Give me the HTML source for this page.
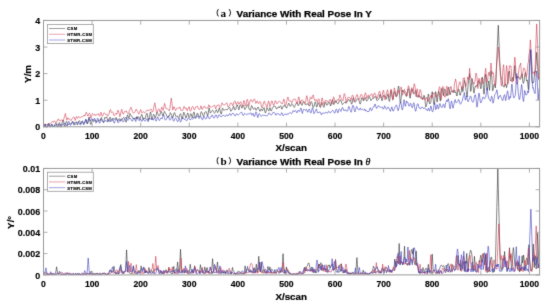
<!DOCTYPE html>
<html><head><meta charset="utf-8"><style>html,body{margin:0;padding:0;background:#fff;overflow:hidden}svg{display:block}</style></head>
<body>
<svg width="550" height="304" viewBox="0 0 550 304">
<defs><filter id="soft" x="0" y="0" width="550" height="304" filterUnits="userSpaceOnUse" color-interpolation-filters="sRGB"><feConvolveMatrix order="3" kernelMatrix="1 8 1 8 64 8 1 8 1" edgeMode="duplicate"/></filter></defs>
<g filter="url(#soft)">
<rect width="550" height="304" fill="#fff"/>
<g>
<polyline points="43.50,126.80 43.99,125.67 44.47,124.73 44.96,123.79 45.44,124.16 45.93,126.24 46.42,126.80 46.90,126.80 47.39,126.80 47.87,126.39 48.36,124.14 48.84,123.22 49.33,124.46 49.82,126.14 50.30,126.65 50.79,126.18 51.27,124.81 51.76,124.03 52.25,124.88 52.73,126.47 53.22,126.41 53.70,126.55 54.19,126.69 54.68,125.17 55.16,123.78 55.65,123.51 56.13,123.10 56.62,124.87 57.11,126.80 57.59,126.80 58.08,126.71 58.56,124.69 59.05,122.93 59.53,122.71 60.02,124.45 60.51,126.80 60.99,126.80 61.48,126.80 61.96,123.99 62.45,121.33 62.94,119.99 63.42,120.41 63.91,123.02 64.39,125.77 64.88,126.60 65.37,124.81 65.85,122.66 66.34,121.44 66.82,121.99 67.31,123.62 67.79,124.89 68.28,124.52 68.77,124.55 69.25,124.01 69.74,123.54 70.22,123.89 70.71,123.86 71.20,123.36 71.68,123.11 72.17,121.87 72.65,121.28 73.14,122.74 73.63,124.52 74.11,123.76 74.60,122.82 75.08,122.65 75.57,122.32 76.06,121.74 76.54,122.01 77.03,123.81 77.51,125.02 78.00,123.68 78.48,121.54 78.97,120.73 79.46,120.82 79.94,121.89 80.43,123.78 80.91,123.99 81.40,123.78 81.89,122.44 82.37,121.41 82.86,121.98 83.34,123.23 83.83,123.57 84.32,123.11 84.80,122.83 85.29,121.33 85.77,119.72 86.26,120.14 86.74,122.40 87.23,123.96 87.72,123.31 88.20,121.16 88.69,117.98 89.17,116.92 89.66,118.66 90.15,122.38 90.63,124.37 91.12,124.21 91.60,122.84 92.09,120.47 92.58,119.33 93.06,120.85 93.55,121.69 94.03,121.04 94.52,120.45 95.00,119.76 95.49,120.00 95.98,121.15 96.46,121.75 96.95,121.53 97.43,121.17 97.92,120.74 98.41,121.03 98.89,120.97 99.38,120.09 99.86,119.99 100.35,120.08 100.84,118.72 101.32,117.47 101.81,118.75 102.29,121.34 102.78,121.94 103.27,122.45 103.75,122.65 104.24,119.84 104.72,117.47 105.21,117.99 105.69,117.89 106.18,117.51 106.67,116.70 107.15,118.50 107.64,120.29 108.12,121.73 108.61,120.26 109.10,119.38 109.58,118.02 110.07,117.09 110.55,118.07 111.04,120.55 111.53,121.27 112.01,120.93 112.50,120.29 112.98,118.51 113.47,117.95 113.95,118.56 114.44,119.11 114.93,119.60 115.41,118.65 115.90,117.50 116.38,117.77 116.87,118.99 117.36,120.34 117.84,121.16 118.33,119.91 118.81,119.14 119.30,118.55 119.79,119.16 120.27,121.20 120.76,120.77 121.24,119.76 121.73,120.03 122.22,119.52 122.70,118.41 123.19,117.75 123.67,117.38 124.16,117.60 124.64,118.07 125.13,119.71 125.62,121.66 126.10,122.26 126.59,119.60 127.07,116.18 127.56,114.85 128.05,116.30 128.53,118.30 129.02,118.04 129.50,116.02 129.99,113.51 130.48,114.78 130.96,115.57 131.45,115.97 131.93,116.14 132.42,117.62 132.90,118.61 133.39,118.38 133.88,118.04 134.36,118.18 134.85,118.92 135.33,119.13 135.82,118.16 136.31,117.06 136.79,118.18 137.28,118.96 137.76,117.42 138.25,116.91 138.74,116.87 139.22,118.04 139.71,119.59 140.19,118.73 140.68,116.82 141.17,115.61 141.65,114.34 142.14,115.11 142.62,117.93 143.11,119.32 143.59,118.04 144.08,117.76 144.57,118.52 145.05,118.77 145.54,117.38 146.02,115.18 146.51,113.84 147.00,113.24 147.48,114.96 147.97,118.25 148.45,120.29 148.94,119.90 149.43,117.70 149.91,114.46 150.40,111.90 150.88,112.92 151.37,116.89 151.85,119.84 152.34,119.11 152.83,116.78 153.31,114.92 153.80,114.29 154.28,115.14 154.77,116.81 155.26,118.04 155.74,116.74 156.23,114.99 156.71,113.11 157.20,112.47 157.69,113.27 158.17,114.40 158.66,115.47 159.14,116.17 159.63,115.63 160.12,114.08 160.60,112.71 161.09,111.37 161.57,111.85 162.06,113.81 162.54,115.15 163.03,115.72 163.52,114.28 164.00,112.65 164.49,111.38 164.97,112.32 165.46,113.23 165.95,113.96 166.43,114.80 166.92,116.33 167.40,117.43 167.89,117.67 168.38,116.97 168.86,115.56 169.35,115.89 169.83,114.78 170.32,112.64 170.80,113.60 171.29,114.38 171.78,115.21 172.26,117.12 172.75,117.87 173.23,116.17 173.72,113.77 174.21,112.74 174.69,112.73 175.18,114.21 175.66,116.01 176.15,116.59 176.64,116.09 177.12,115.84 177.61,116.13 178.09,117.48 178.58,118.34 179.07,117.31 179.55,115.51 180.04,114.12 180.52,113.62 181.01,114.82 181.49,117.48 181.98,118.71 182.47,118.86 182.95,116.52 183.44,113.02 183.92,112.17 184.41,113.98 184.90,114.95 185.38,116.24 185.87,118.11 186.35,117.39 186.84,115.24 187.33,114.05 187.81,112.95 188.30,114.67 188.78,116.58 189.27,117.48 189.75,116.86 190.24,114.81 190.73,113.55 191.21,113.95 191.70,115.88 192.18,117.90 192.67,116.78 193.16,113.98 193.64,112.47 194.13,111.93 194.61,114.57 195.10,117.49 195.59,117.61 196.07,116.52 196.56,115.23 197.04,113.66 197.53,113.02 198.01,114.08 198.50,116.28 198.99,116.88 199.47,116.62 199.96,116.64 200.44,114.80 200.93,112.44 201.42,111.66 201.90,112.46 202.39,113.97 202.87,115.28 203.36,115.82 203.85,115.74 204.33,114.12 204.82,112.21 205.30,111.83 205.79,111.96 206.28,111.59 206.76,112.89 207.25,115.04 207.73,115.98 208.22,113.89 208.70,109.66 209.19,107.97 209.68,109.87 210.16,112.71 210.65,112.99 211.13,111.96 211.62,111.41 212.11,110.55 212.59,110.10 213.08,110.57 213.56,111.77 214.05,112.64 214.54,113.09 215.02,112.65 215.51,111.35 215.99,110.10 216.48,109.66 216.96,111.07 217.45,112.59 217.94,112.37 218.42,111.24 218.91,108.86 219.39,107.90 219.88,109.57 220.37,111.89 220.85,113.69 221.34,114.20 221.82,111.97 222.31,108.35 222.80,108.30 223.28,109.31 223.77,110.10 224.25,110.28 224.74,109.65 225.23,109.45 225.71,109.83 226.20,109.57 226.68,109.62 227.17,109.92 227.65,109.30 228.14,108.60 228.63,107.96 229.11,107.74 229.60,107.21 230.08,108.90 230.57,110.91 231.06,111.36 231.54,110.41 232.03,109.29 232.51,109.21 233.00,107.80 233.49,106.11 233.97,106.89 234.46,109.29 234.94,110.07 235.43,109.70 235.91,108.63 236.40,106.55 236.89,104.59 237.37,104.90 237.86,106.38 238.34,108.29 238.83,109.88 239.32,108.37 239.80,105.26 240.29,104.87 240.77,105.03 241.26,106.35 241.75,108.05 242.23,107.87 242.72,106.29 243.20,105.34 243.69,105.64 244.18,107.44 244.66,109.26 245.15,109.43 245.63,108.35 246.12,107.70 246.60,106.58 247.09,104.91 247.58,104.78 248.06,105.37 248.55,107.27 249.03,108.99 249.52,109.33 250.01,109.93 250.49,110.43 250.98,107.62 251.46,105.71 251.95,105.95 252.44,107.06 252.92,108.64 253.41,109.08 253.89,109.18 254.38,108.34 254.86,107.68 255.35,108.33 255.84,110.00 256.32,110.28 256.81,109.36 257.29,107.95 257.78,107.29 258.27,107.22 258.75,108.50 259.24,109.80 259.72,111.05 260.21,111.26 260.70,110.08 261.18,108.80 261.67,109.40 262.15,110.72 262.64,110.42 263.13,109.14 263.61,108.18 264.10,107.51 264.58,110.18 265.07,112.65 265.55,112.85 266.04,111.66 266.53,109.18 267.01,107.74 267.50,108.23 267.98,109.25 268.47,110.52 268.96,111.07 269.44,109.53 269.93,107.51 270.41,108.69 270.90,110.69 271.39,110.82 271.87,109.72 272.36,108.30 272.84,107.56 273.33,106.49 273.81,105.87 274.30,106.16 274.79,106.11 275.27,106.26 275.76,107.59 276.24,108.73 276.73,108.96 277.22,107.89 277.70,107.77 278.19,107.11 278.67,106.71 279.16,107.94 279.65,107.36 280.13,106.21 280.62,105.71 281.10,106.46 281.59,108.85 282.08,109.28 282.56,108.01 283.05,106.42 283.53,106.19 284.02,105.42 284.50,105.07 284.99,106.64 285.48,106.65 285.96,106.69 286.45,108.12 286.93,107.77 287.42,106.18 287.91,105.31 288.39,103.58 288.88,103.11 289.36,104.59 289.85,105.94 290.34,106.43 290.82,105.90 291.31,104.30 291.79,103.57 292.28,103.87 292.76,104.50 293.25,105.70 293.74,106.62 294.22,107.41 294.71,106.71 295.19,105.28 295.68,104.34 296.17,103.38 296.65,102.45 297.14,102.40 297.62,103.63 298.11,105.63 298.60,105.19 299.08,104.26 299.57,103.27 300.05,101.43 300.54,101.70 301.02,103.45 301.51,104.38 302.00,105.36 302.48,104.39 302.97,102.17 303.45,101.65 303.94,101.54 304.43,102.24 304.91,103.69 305.40,104.72 305.88,104.48 306.37,104.26 306.86,104.04 307.34,103.68 307.83,104.42 308.31,105.12 308.80,105.15 309.29,105.53 309.77,106.12 310.26,104.41 310.74,102.11 311.23,101.64 311.71,101.96 312.20,103.70 312.69,106.28 313.17,107.27 313.66,107.19 314.14,106.02 314.63,103.45 315.12,101.98 315.60,102.30 316.09,104.78 316.57,106.87 317.06,106.86 317.55,104.83 318.03,102.50 318.52,103.02 319.00,104.40 319.49,105.71 319.97,107.18 320.46,107.52 320.95,105.42 321.43,103.51 321.92,102.51 322.40,103.53 322.89,105.27 323.38,106.65 323.86,107.40 324.35,106.26 324.83,103.63 325.32,102.07 325.81,102.60 326.29,103.91 326.78,105.20 327.26,105.14 327.75,104.42 328.24,103.05 328.72,102.38 329.21,101.93 329.69,102.72 330.18,105.08 330.66,106.02 331.15,103.62 331.64,102.00 332.12,100.70 332.61,99.55 333.09,101.93 333.58,104.25 334.07,104.57 334.55,102.53 335.04,101.03 335.52,101.12 336.01,100.91 336.50,102.11 336.98,103.16 337.47,103.59 337.95,103.68 338.44,103.33 338.92,101.97 339.41,101.06 339.90,100.30 340.38,99.67 340.87,100.71 341.35,101.96 341.84,103.14 342.33,104.65 342.81,104.17 343.30,103.61 343.78,103.11 344.27,102.65 344.76,102.07 345.24,101.85 345.73,103.04 346.21,103.33 346.70,102.62 347.19,101.62 347.67,100.29 348.16,99.72 348.64,99.17 349.13,100.10 349.61,101.28 350.10,100.62 350.59,100.36 351.07,102.58 351.56,104.10 352.04,103.71 352.53,100.95 353.02,98.14 353.50,97.63 353.99,99.65 354.47,101.82 354.96,102.30 355.45,102.14 355.93,101.31 356.42,100.29 356.90,99.19 357.39,98.89 357.87,98.49 358.36,98.88 358.85,100.13 359.33,101.72 359.82,103.68 360.30,103.98 360.79,102.46 361.28,99.40 361.76,97.71 362.25,97.91 362.73,98.73 363.22,100.39 363.71,100.95 364.19,99.55 364.68,98.24 365.16,97.58 365.65,97.96 366.14,99.92 366.62,101.09 367.11,100.70 367.59,99.99 368.08,99.53 368.56,97.47 369.05,96.18 369.54,96.87 370.02,98.00 370.51,99.46 370.99,100.66 371.48,99.71 371.97,98.96 372.45,98.40 372.94,98.66 373.42,98.52 373.91,97.83 374.40,96.96 374.88,97.15 375.37,96.46 375.85,97.05 376.34,98.73 376.82,100.40 377.31,100.50 377.80,100.29 378.28,99.77 378.77,99.25 379.25,97.35 379.74,94.67 380.23,94.43 380.71,96.24 381.20,98.21 381.68,99.97 382.17,100.76 382.66,98.91 383.14,95.77 383.63,95.43 384.11,96.46 384.60,95.76 385.09,96.22 385.57,97.54 386.06,98.50 386.54,98.97 387.03,96.56 387.51,94.12 388.00,94.44 388.49,97.26 388.97,100.65 389.46,101.42 389.94,98.91 390.43,93.77 390.92,90.41 391.40,92.11 391.89,94.82 392.37,98.24 392.86,99.37 393.35,98.17 393.83,94.74 394.32,91.78 394.80,91.57 395.29,93.48 395.77,95.80 396.26,96.81 396.75,96.58 397.23,95.80 397.72,92.51 398.20,87.16 398.69,85.98 399.18,89.54 399.66,95.96 400.15,102.14 400.63,103.18 401.12,98.30 401.61,92.22 402.09,89.83 402.58,91.51 403.06,92.04 403.55,90.91 404.03,91.58 404.52,92.34 405.01,93.96 405.49,94.17 405.98,96.08 406.46,96.54 406.95,93.49 407.44,91.51 407.92,89.12 408.41,88.61 408.89,89.87 409.38,93.73 409.87,98.09 410.35,97.98 410.84,93.96 411.32,90.94 411.81,89.22 412.30,89.25 412.78,90.17 413.27,92.51 413.75,94.19 414.24,93.22 414.72,92.81 415.21,91.68 415.70,90.46 416.18,91.56 416.67,95.42 417.15,97.17 417.64,96.65 418.13,95.16 418.61,95.16 419.10,96.60 419.58,96.24 420.07,96.04 420.56,97.74 421.04,98.54 421.53,97.82 422.01,97.41 422.50,98.86 422.98,99.21 423.47,97.18 423.96,95.32 424.44,95.98 424.93,99.30 425.41,104.44 425.90,106.87 426.39,105.77 426.87,104.06 427.36,100.77 427.84,96.72 428.33,94.01 428.82,95.04 429.30,101.34 429.79,104.03 430.27,103.29 430.76,102.65 431.25,98.52 431.73,94.15 432.22,91.68 432.70,94.93 433.19,99.40 433.67,103.08 434.16,104.49 434.65,101.35 435.13,95.29 435.62,91.66 436.10,93.40 436.59,98.60 437.08,102.07 437.56,99.02 438.05,94.50 438.53,91.47 439.02,91.55 439.51,95.26 439.99,99.98 440.48,101.12 440.96,95.07 441.45,90.02 441.93,88.25 442.42,89.56 442.91,91.87 443.39,95.66 443.88,92.70 444.36,89.26 444.85,89.15 445.34,89.59 445.82,90.26 446.31,93.68 446.79,96.00 447.28,95.62 447.77,93.01 448.25,88.65 448.74,87.10 449.22,90.01 449.71,93.68 450.20,94.82 450.68,92.86 451.17,90.86 451.65,91.01 452.14,91.32 452.62,90.94 453.11,92.48 453.60,92.47 454.08,89.98 454.57,90.12 455.05,92.71 455.54,92.01 456.03,91.73 456.51,94.87 457.00,96.00 457.48,93.40 457.97,90.87 458.46,89.15 458.94,89.32 459.43,92.46 459.91,95.14 460.40,95.17 460.88,93.04 461.37,90.83 461.86,86.87 462.34,88.41 462.83,91.66 463.31,88.81 463.80,84.59 464.29,80.27 464.77,82.24 465.26,83.03 465.74,87.49 466.23,91.49 466.72,95.16 467.20,97.02 467.69,90.67 468.17,84.50 468.66,80.13 469.15,77.74 469.63,73.62 470.12,82.99 470.60,91.41 471.09,91.00 471.57,82.63 472.06,78.64 472.55,81.15 473.03,85.11 473.52,90.80 474.00,93.19 474.49,90.22 474.98,87.17 475.46,86.22 475.95,87.10 476.43,85.17 476.92,85.40 477.41,85.77 477.89,83.57 478.38,80.61 478.86,81.19 479.35,82.29 479.83,83.24 480.32,86.16 480.81,88.77 481.29,86.93 481.78,81.27 482.26,77.27 482.75,78.72 483.24,85.34 483.72,93.61 484.21,94.22 484.69,87.33 485.18,77.29 485.67,74.33 486.15,78.43 486.64,86.34 487.12,90.42 487.61,88.14 488.10,82.81 488.58,81.09 489.07,85.33 489.55,90.34 490.04,83.12 490.52,75.46 491.01,70.97 491.50,73.02 491.98,79.18 492.47,90.56 492.95,90.69 493.44,87.43 493.93,84.68 494.41,83.96 494.90,86.49 495.38,87.96 495.87,82.04 496.36,69.54 496.84,57.75 497.33,46.37 497.81,35.68 498.30,25.24 498.78,37.04 499.27,49.89 499.76,61.24 500.24,68.75 500.73,76.26 501.21,77.21 501.70,78.99 502.19,81.10 502.67,84.36 503.16,85.84 503.64,86.74 504.13,87.19 504.62,85.96 505.10,83.96 505.59,83.97 506.07,84.68 506.56,87.73 507.04,85.18 507.53,83.27 508.02,79.81 508.50,72.80 508.99,73.04 509.47,70.97 509.96,77.09 510.45,80.85 510.93,80.41 511.42,80.86 511.90,80.60 512.39,77.92 512.88,77.39 513.36,80.90 513.85,76.96 514.33,71.32 514.82,65.65 515.31,71.80 515.79,76.91 516.28,78.79 516.76,76.48 517.25,76.55 517.73,78.02 518.22,76.99 518.71,76.59 519.19,77.54 519.68,78.41 520.16,79.50 520.65,78.87 521.14,75.45 521.62,74.00 522.11,73.90 522.59,79.26 523.08,83.22 523.57,83.22 524.05,81.16 524.54,76.22 525.02,72.84 525.51,72.37 525.99,75.54 526.48,81.12 526.97,80.31 527.45,80.30 527.94,85.71 528.42,89.59 528.91,81.11 529.40,66.49 529.88,58.35 530.37,49.70 530.85,57.86 531.34,67.49 531.83,80.41 532.31,83.07 532.80,82.24 533.28,82.85 533.77,81.76 534.26,76.84 534.74,71.45 535.23,72.43 535.71,68.20 536.20,61.29 536.68,52.36 537.17,60.25 537.66,66.39 538.14,76.42 538.63,78.80 539.11,80.43" fill="none" stroke="#303030" stroke-width="0.6" stroke-opacity="1.0" stroke-linejoin="round"/>
<polyline points="43.50,126.80 43.99,126.80 44.47,126.80 44.96,126.06 45.44,125.41 45.93,124.74 46.42,124.79 46.90,124.67 47.39,124.20 47.87,124.21 48.36,124.82 48.84,124.91 49.33,124.48 49.82,123.95 50.30,123.68 50.79,122.84 51.27,122.47 51.76,122.01 52.25,121.51 52.73,121.93 53.22,122.36 53.70,121.25 54.19,120.85 54.68,121.06 55.16,121.96 55.65,122.74 56.13,122.87 56.62,122.32 57.11,121.03 57.59,119.94 58.08,119.07 58.56,118.98 59.05,120.08 59.53,120.92 60.02,121.11 60.51,120.85 60.99,120.43 61.48,119.71 61.96,119.94 62.45,120.89 62.94,121.14 63.42,120.01 63.91,118.73 64.39,116.76 64.88,115.22 65.37,113.51 65.85,115.90 66.34,118.46 66.82,120.23 67.31,118.98 67.79,117.79 68.28,118.01 68.77,119.26 69.25,119.18 69.74,119.25 70.22,119.56 70.71,120.47 71.20,120.49 71.68,119.27 72.17,118.73 72.65,117.72 73.14,117.29 73.63,117.10 74.11,117.12 74.60,118.68 75.08,120.44 75.57,119.49 76.06,117.19 76.54,116.46 77.03,117.64 77.51,118.40 78.00,117.77 78.48,116.54 78.97,116.94 79.46,117.35 79.94,117.40 80.43,117.73 80.91,117.45 81.40,116.68 81.89,117.03 82.37,117.02 82.86,116.27 83.34,115.69 83.83,115.31 84.32,115.13 84.80,116.24 85.29,114.91 85.77,113.29 86.26,112.18 86.74,113.04 87.23,114.44 87.72,115.95 88.20,115.88 88.69,114.20 89.17,113.42 89.66,113.22 90.15,114.45 90.63,117.66 91.12,118.39 91.60,116.46 92.09,114.39 92.58,113.44 93.06,113.99 93.55,114.64 94.03,114.20 94.52,114.70 95.00,115.75 95.49,115.29 95.98,114.47 96.46,114.99 96.95,115.23 97.43,114.32 97.92,113.70 98.41,113.75 98.89,114.75 99.38,116.23 99.86,115.69 100.35,113.50 100.84,112.17 101.32,112.76 101.81,115.33 102.29,116.40 102.78,115.65 103.27,114.83 103.75,113.21 104.24,112.74 104.72,113.34 105.21,113.63 105.69,114.56 106.18,114.79 106.67,114.21 107.15,114.49 107.64,115.75 108.12,115.73 108.61,114.94 109.10,113.55 109.58,110.89 110.07,110.26 110.55,109.52 111.04,111.65 111.53,112.70 112.01,112.30 112.50,111.82 112.98,112.33 113.47,114.45 113.95,115.75 114.44,115.45 114.93,114.53 115.41,113.56 115.90,113.10 116.38,114.22 116.87,114.25 117.36,112.37 117.84,110.20 118.33,111.03 118.81,112.32 119.30,114.25 119.79,116.77 120.27,115.98 120.76,112.96 121.24,110.37 121.73,109.22 122.22,111.12 122.70,113.10 123.19,114.28 123.67,113.90 124.16,112.36 124.64,111.44 125.13,111.00 125.62,111.67 126.10,111.22 126.59,110.94 127.07,112.76 127.56,113.44 128.05,113.92 128.53,113.61 129.02,111.89 129.50,110.29 129.99,109.48 130.48,108.26 130.96,107.13 131.45,108.69 131.93,110.09 132.42,111.27 132.90,112.29 133.39,113.08 133.88,112.74 134.36,112.81 134.85,112.33 135.33,111.16 135.82,109.79 136.31,109.16 136.79,110.19 137.28,111.19 137.76,111.73 138.25,112.94 138.74,114.17 139.22,113.69 139.71,112.37 140.19,110.29 140.68,109.50 141.17,110.96 141.65,112.60 142.14,112.72 142.62,112.55 143.11,111.66 143.59,111.73 144.08,112.43 144.57,112.85 145.05,112.62 145.54,112.19 146.02,111.31 146.51,110.83 147.00,110.11 147.48,110.17 147.97,109.95 148.45,110.33 148.94,110.91 149.43,110.44 149.91,109.63 150.40,109.33 150.88,109.39 151.37,109.43 151.85,110.90 152.34,112.12 152.83,111.44 153.31,110.52 153.80,107.12 154.28,104.69 154.77,102.87 155.26,104.80 155.74,107.63 156.23,111.93 156.71,113.00 157.20,112.21 157.69,110.72 158.17,109.86 158.66,108.83 159.14,109.35 159.63,110.86 160.12,112.17 160.60,111.62 161.09,109.52 161.57,107.27 162.06,107.32 162.54,108.61 163.03,110.51 163.52,109.29 164.00,105.98 164.49,103.40 164.97,104.85 165.46,106.53 165.95,108.36 166.43,108.90 166.92,108.73 167.40,108.71 167.89,109.35 168.38,109.58 168.86,110.62 169.35,110.69 169.83,109.40 170.32,104.94 170.80,101.49 171.29,98.09 171.78,101.37 172.26,105.65 172.75,110.06 173.23,108.81 173.72,106.96 174.21,106.75 174.69,108.18 175.18,109.74 175.66,110.62 176.15,109.38 176.64,108.44 177.12,108.25 177.61,108.08 178.09,107.97 178.58,108.12 179.07,108.27 179.55,107.36 180.04,106.97 180.52,109.30 181.01,110.58 181.49,110.25 181.98,110.48 182.47,110.46 182.95,110.16 183.44,108.23 183.92,106.42 184.41,106.77 184.90,108.43 185.38,108.67 185.87,107.90 186.35,108.29 186.84,110.40 187.33,110.73 187.81,109.02 188.30,107.94 188.78,106.95 189.27,106.82 189.75,109.51 190.24,111.17 190.73,110.89 191.21,109.83 191.70,107.79 192.18,106.82 192.67,106.34 193.16,107.07 193.64,108.29 194.13,109.76 194.61,109.83 195.10,108.48 195.59,107.28 196.07,107.42 196.56,106.86 197.04,105.94 197.53,106.62 198.01,107.89 198.50,108.89 198.99,109.08 199.47,109.67 199.96,109.22 200.44,107.32 200.93,105.78 201.42,107.07 201.90,109.16 202.39,109.42 202.87,108.06 203.36,107.06 203.85,107.15 204.33,106.15 204.82,106.50 205.30,107.87 205.79,108.04 206.28,107.72 206.76,108.03 207.25,108.23 207.73,108.41 208.22,107.14 208.70,104.78 209.19,105.52 209.68,107.00 210.16,107.33 210.65,106.75 211.13,106.67 211.62,107.21 212.11,106.95 212.59,106.44 213.08,106.07 213.56,105.95 214.05,105.31 214.54,105.20 215.02,106.52 215.51,108.86 215.99,108.13 216.48,106.41 216.96,105.39 217.45,105.42 217.94,105.48 218.42,104.74 218.91,105.01 219.39,106.57 219.88,107.59 220.37,107.34 220.85,106.76 221.34,104.62 221.82,102.85 222.31,103.22 222.80,104.30 223.28,104.98 223.77,104.75 224.25,104.75 224.74,105.01 225.23,104.43 225.71,103.90 226.20,103.25 226.68,102.67 227.17,103.90 227.65,106.10 228.14,107.10 228.63,106.37 229.11,106.27 229.60,105.53 230.08,103.79 230.57,102.92 231.06,103.46 231.54,103.09 232.03,103.79 232.51,105.48 233.00,105.69 233.49,103.88 233.97,101.77 234.46,101.31 234.94,100.91 235.43,102.03 235.91,104.22 236.40,104.18 236.89,103.17 237.37,102.46 237.86,101.67 238.34,102.88 238.83,104.20 239.32,103.98 239.80,103.00 240.29,102.08 240.77,101.60 241.26,103.24 241.75,104.57 242.23,105.52 242.72,106.23 243.20,103.44 243.69,100.89 244.18,100.44 244.66,102.54 245.15,105.64 245.63,106.12 246.12,104.31 246.60,101.20 247.09,99.36 247.58,99.66 248.06,101.51 248.55,104.81 249.03,105.58 249.52,103.23 250.01,101.41 250.49,100.12 250.98,99.41 251.46,100.29 251.95,101.18 252.44,102.04 252.92,101.86 253.41,100.25 253.89,99.47 254.38,98.88 254.86,99.92 255.35,101.48 255.84,103.56 256.32,102.90 256.81,101.38 257.29,100.94 257.78,102.23 258.27,103.27 258.75,103.70 259.24,102.45 259.72,101.62 260.21,101.65 260.70,102.33 261.18,105.04 261.67,107.52 262.15,107.88 262.64,106.69 263.13,104.52 263.61,102.57 264.10,101.27 264.58,101.30 265.07,103.64 265.55,104.30 266.04,104.59 266.53,106.91 267.01,107.54 267.50,105.42 267.98,102.86 268.47,101.00 268.96,101.34 269.44,104.85 269.93,106.57 270.41,105.46 270.90,103.84 271.39,101.93 271.87,100.78 272.36,101.32 272.84,103.72 273.33,104.94 273.81,105.16 274.30,104.12 274.79,102.14 275.27,100.55 275.76,101.18 276.24,102.75 276.73,103.66 277.22,103.75 277.70,102.37 278.19,101.63 278.67,101.72 279.16,101.62 279.65,101.27 280.13,101.61 280.62,101.89 281.10,102.83 281.59,103.85 282.08,104.06 282.56,103.67 283.05,101.77 283.53,99.25 284.02,99.15 284.50,101.11 284.99,103.97 285.48,105.46 285.96,104.84 286.45,103.38 286.93,100.30 287.42,98.02 287.91,97.02 288.39,98.63 288.88,100.55 289.36,101.27 289.85,100.90 290.34,100.69 290.82,100.77 291.31,102.09 291.79,102.77 292.28,102.04 292.76,100.82 293.25,99.77 293.74,99.03 294.22,99.16 294.71,99.02 295.19,99.07 295.68,99.86 296.17,101.61 296.65,103.32 297.14,104.02 297.62,102.41 298.11,99.15 298.60,96.84 299.08,97.64 299.57,100.31 300.05,103.35 300.54,103.40 301.02,101.16 301.51,100.10 302.00,100.32 302.48,100.02 302.97,100.47 303.45,101.58 303.94,102.36 304.43,102.90 304.91,103.38 305.40,102.37 305.88,100.07 306.37,96.95 306.86,95.61 307.34,97.96 307.83,100.77 308.31,103.49 308.80,104.93 309.29,103.36 309.77,100.10 310.26,97.45 310.74,96.89 311.23,97.59 311.71,98.96 312.20,98.04 312.69,96.49 313.17,94.89 313.66,96.57 314.14,98.31 314.63,100.48 315.12,100.93 315.60,100.33 316.09,99.43 316.57,100.44 317.06,102.09 317.55,102.39 318.03,100.30 318.52,98.72 319.00,99.27 319.49,101.46 319.97,104.52 320.46,105.96 320.95,105.23 321.43,101.36 321.92,97.79 322.40,98.20 322.89,100.41 323.38,103.27 323.86,104.67 324.35,103.85 324.83,101.90 325.32,100.32 325.81,100.74 326.29,100.81 326.78,100.30 327.26,101.73 327.75,102.44 328.24,101.53 328.72,101.11 329.21,100.90 329.69,100.12 330.18,99.26 330.66,100.09 331.15,102.15 331.64,104.01 332.12,104.44 332.61,102.55 333.09,98.72 333.58,96.82 334.07,97.91 334.55,99.56 335.04,101.47 335.52,102.51 336.01,102.33 336.50,100.71 336.98,99.65 337.47,99.71 337.95,99.75 338.44,100.47 338.92,99.00 339.41,97.10 339.90,94.89 340.38,96.44 340.87,97.54 341.35,98.59 341.84,99.34 342.33,100.64 342.81,101.02 343.30,99.10 343.78,95.74 344.27,93.51 344.76,94.41 345.24,96.61 345.73,99.83 346.21,102.40 346.70,101.09 347.19,98.94 347.67,97.61 348.16,97.39 348.64,97.53 349.13,97.38 349.61,97.22 350.10,97.82 350.59,99.02 351.07,100.18 351.56,98.19 352.04,95.72 352.53,95.09 353.02,95.25 353.50,97.87 353.99,101.06 354.47,101.80 354.96,100.53 355.45,98.84 355.93,97.16 356.42,95.42 356.90,94.46 357.39,94.70 357.87,97.00 358.36,98.40 358.85,99.04 359.33,99.46 359.82,98.36 360.30,95.99 360.79,94.97 361.28,94.16 361.76,94.76 362.25,95.61 362.73,96.64 363.22,98.82 363.71,99.93 364.19,97.09 364.68,94.67 365.16,93.23 365.65,92.77 366.14,95.18 366.62,98.12 367.11,98.46 367.59,96.74 368.08,95.05 368.56,95.08 369.05,95.50 369.54,96.11 370.02,96.11 370.51,95.36 370.99,94.63 371.48,93.87 371.97,94.08 372.45,96.43 372.94,97.60 373.42,96.32 373.91,94.20 374.40,92.99 374.88,93.13 375.37,94.36 375.85,95.33 376.34,97.08 376.82,98.93 377.31,98.31 377.80,96.27 378.28,93.99 378.77,92.80 379.25,91.84 379.74,91.12 380.23,93.10 380.71,96.21 381.20,97.89 381.68,98.10 382.17,95.59 382.66,92.82 383.14,90.45 383.63,90.40 384.11,94.45 384.60,98.16 385.09,99.96 385.57,98.58 386.06,94.75 386.54,92.35 387.03,91.44 387.51,89.75 388.00,91.85 388.49,96.08 388.97,97.30 389.46,96.84 389.94,95.36 390.43,92.31 390.92,89.24 391.40,89.43 391.89,92.56 392.37,97.67 392.86,100.25 393.35,97.24 393.83,91.29 394.32,87.82 394.80,89.50 395.29,91.82 395.77,94.57 396.26,96.65 396.75,93.87 397.23,91.53 397.72,90.19 398.20,90.64 398.69,92.11 399.18,93.49 399.66,92.31 400.15,89.01 400.63,88.49 401.12,86.92 401.61,88.96 402.09,92.07 402.58,95.26 403.06,93.56 403.55,91.19 404.03,89.68 404.52,89.33 405.01,91.60 405.49,92.37 405.98,92.11 406.46,93.16 406.95,95.97 407.44,94.31 407.92,88.61 408.41,85.72 408.89,86.62 409.38,88.63 409.87,93.11 410.35,95.63 410.84,93.23 411.32,89.10 411.81,87.63 412.30,89.11 412.78,92.38 413.27,90.88 413.75,86.31 414.24,83.73 414.72,84.87 415.21,88.06 415.70,95.28 416.18,96.72 416.67,91.19 417.15,88.78 417.64,91.04 418.13,94.08 418.61,97.64 419.10,96.60 419.58,92.09 420.07,89.49 420.56,89.99 421.04,92.03 421.53,94.94 422.01,98.17 422.50,99.91 422.98,99.34 423.47,98.19 423.96,98.00 424.44,97.84 424.93,99.02 425.41,100.14 425.90,98.62 426.39,97.24 426.87,97.71 427.36,99.34 427.84,101.52 428.33,101.68 428.82,98.72 429.30,98.12 429.79,98.62 430.27,97.89 430.76,95.66 431.25,95.11 431.73,97.68 432.22,98.28 432.70,94.02 433.19,93.14 433.67,93.69 434.16,92.81 434.65,93.53 435.13,95.01 435.62,96.43 436.10,96.94 436.59,95.74 437.08,96.10 437.56,96.03 438.05,94.55 438.53,91.26 439.02,88.42 439.51,86.71 439.99,87.61 440.48,94.90 440.96,100.03 441.45,98.50 441.93,92.57 442.42,86.96 442.91,86.34 443.39,87.90 443.88,91.13 444.36,95.60 444.85,97.27 445.34,95.97 445.82,91.95 446.31,87.88 446.79,86.17 447.28,87.28 447.77,91.03 448.25,95.28 448.74,94.73 449.22,92.93 449.71,91.20 450.20,88.59 450.68,86.44 451.17,86.69 451.65,89.78 452.14,90.73 452.62,92.04 453.11,91.61 453.60,91.42 454.08,88.61 454.57,82.81 455.05,81.77 455.54,78.94 456.03,81.30 456.51,84.29 457.00,90.89 457.48,91.78 457.97,89.62 458.46,86.70 458.94,84.96 459.43,82.25 459.91,81.72 460.40,84.23 460.88,85.69 461.37,86.15 461.86,89.04 462.34,88.27 462.83,82.04 463.31,78.00 463.80,78.57 464.29,77.61 464.77,80.09 465.26,83.83 465.74,86.66 466.23,84.71 466.72,84.25 467.20,81.22 467.69,76.92 468.17,79.01 468.66,79.55 469.15,75.41 469.63,68.31 470.12,74.90 470.60,77.24 471.09,77.76 471.57,78.37 472.06,81.27 472.55,82.16 473.03,82.17 473.52,83.86 474.00,84.40 474.49,82.32 474.98,81.93 475.46,76.78 475.95,73.03 476.43,74.13 476.92,76.88 477.41,83.48 477.89,88.64 478.38,82.91 478.86,78.27 479.35,78.97 479.83,83.05 480.32,84.24 480.81,82.10 481.29,79.39 481.78,77.79 482.26,79.92 482.75,82.84 483.24,83.71 483.72,81.69 484.21,80.18 484.69,75.19 485.18,72.28 485.67,68.31 486.15,73.34 486.64,78.88 487.12,82.08 487.61,80.30 488.10,76.14 488.58,72.86 489.07,72.01 489.55,75.35 490.04,76.05 490.52,69.78 491.01,62.99 491.50,68.66 491.98,72.28 492.47,73.68 492.95,72.40 493.44,73.21 493.93,79.26 494.41,83.27 494.90,85.09 495.38,85.61 495.87,79.40 496.36,70.06 496.84,63.20 497.33,58.80 497.81,53.85 498.30,47.04 498.78,53.47 499.27,60.07 499.76,66.22 500.24,72.24 500.73,80.18 501.21,85.69 501.70,86.29 502.19,80.24 502.67,72.86 503.16,67.25 503.64,64.67 504.13,72.09 504.62,83.83 505.10,85.68 505.59,81.55 506.07,72.32 506.56,65.54 507.04,69.01 507.53,76.89 508.02,83.95 508.50,79.28 508.99,70.06 509.47,65.65 509.96,66.28 510.45,66.20 510.93,65.85 511.42,71.72 511.90,80.93 512.39,82.36 512.88,80.41 513.36,78.89 513.85,71.97 514.33,62.22 514.82,57.14 515.31,61.05 515.79,70.01 516.28,83.10 516.76,84.25 517.25,84.04 517.73,81.56 518.22,75.23 518.71,70.91 519.19,67.53 519.68,65.32 520.16,65.13 520.65,62.99 521.14,69.38 521.62,75.67 522.11,78.01 522.59,73.36 523.08,71.29 523.57,68.10 524.05,67.88 524.54,68.30 525.02,70.01 525.51,72.48 525.99,76.81 526.48,76.33 526.97,73.82 527.45,68.69 527.94,63.61 528.42,62.11 528.91,54.81 529.40,52.94 529.88,48.04 530.37,39.86 530.85,47.23 531.34,54.58 531.83,62.62 532.31,71.95 532.80,73.79 533.28,73.10 533.77,72.18 534.26,71.90 534.74,75.68 535.23,65.55 535.71,50.67 536.20,35.69 536.68,23.91 537.17,34.50 537.66,46.02 538.14,60.63 538.63,78.66 539.11,75.93" fill="none" stroke="#d03a50" stroke-width="0.6" stroke-opacity="1.0" stroke-linejoin="round"/>
<polyline points="43.50,126.80 43.99,126.80 44.47,125.64 44.96,124.31 45.44,124.90 45.93,126.69 46.42,126.80 46.90,126.80 47.39,126.76 47.87,124.65 48.36,123.85 48.84,124.71 49.33,126.03 49.82,126.80 50.30,126.80 50.79,126.43 51.27,125.09 51.76,124.31 52.25,124.78 52.73,125.96 53.22,126.58 53.70,126.70 54.19,125.60 54.68,124.95 55.16,125.44 55.65,125.46 56.13,125.40 56.62,125.13 57.11,124.82 57.59,124.11 58.08,124.23 58.56,125.40 59.05,126.02 59.53,126.35 60.02,125.34 60.51,124.17 60.99,124.25 61.48,124.93 61.96,124.59 62.45,124.66 62.94,124.68 63.42,124.77 63.91,124.12 64.39,123.22 64.88,123.68 65.37,124.14 65.85,124.22 66.34,124.78 66.82,126.10 67.31,126.01 67.79,124.28 68.28,121.69 68.77,121.15 69.25,122.33 69.74,123.83 70.22,125.08 70.71,125.37 71.20,124.41 71.68,123.13 72.17,122.99 72.65,122.71 73.14,122.03 73.63,121.99 74.11,123.48 74.60,125.05 75.08,124.91 75.57,124.02 76.06,123.30 76.54,122.56 77.03,122.46 77.51,122.80 78.00,122.41 78.48,122.44 78.97,122.86 79.46,123.58 79.94,124.73 80.43,124.72 80.91,123.14 81.40,121.68 81.89,121.06 82.37,120.86 82.86,121.88 83.34,124.23 83.83,124.95 84.32,123.61 84.80,121.80 85.29,119.98 85.77,119.07 86.26,119.82 86.74,122.33 87.23,123.82 87.72,122.59 88.20,120.25 88.69,118.92 89.17,118.55 89.66,119.73 90.15,121.21 90.63,120.75 91.12,119.45 91.60,118.99 92.09,119.09 92.58,119.47 93.06,120.26 93.55,120.10 94.03,118.94 94.52,118.20 95.00,119.58 95.49,121.82 95.98,123.24 96.46,122.40 96.95,120.57 97.43,118.54 97.92,118.26 98.41,119.22 98.89,121.28 99.38,123.20 99.86,123.07 100.35,121.24 100.84,119.43 101.32,118.99 101.81,119.68 102.29,120.50 102.78,121.59 103.27,121.79 103.75,121.38 104.24,121.42 104.72,121.44 105.21,120.95 105.69,120.23 106.18,120.82 106.67,121.45 107.15,121.89 107.64,120.86 108.12,119.70 108.61,119.38 109.10,119.69 109.58,121.17 110.07,121.93 110.55,121.16 111.04,120.02 111.53,119.48 112.01,119.17 112.50,118.76 112.98,119.10 113.47,121.17 113.95,122.90 114.44,123.08 114.93,121.66 115.41,120.32 115.90,119.48 116.38,118.89 116.87,119.24 117.36,120.86 117.84,122.44 118.33,122.79 118.81,122.21 119.30,121.45 119.79,120.55 120.27,119.90 120.76,119.28 121.24,118.67 121.73,119.46 122.22,121.23 122.70,121.74 123.19,122.03 123.67,121.54 124.16,119.89 124.64,118.71 125.13,118.17 125.62,117.85 126.10,117.26 126.59,118.10 127.07,119.23 127.56,119.65 128.05,120.42 128.53,119.83 129.02,119.24 129.50,118.52 129.99,117.99 130.48,118.48 130.96,119.34 131.45,120.05 131.93,120.99 132.42,121.19 132.90,119.92 133.39,118.84 133.88,117.94 134.36,118.56 134.85,119.77 135.33,120.98 135.82,121.60 136.31,118.91 136.79,116.50 137.28,116.65 137.76,118.13 138.25,119.77 138.74,120.34 139.22,120.67 139.71,120.49 140.19,119.88 140.68,119.20 141.17,120.10 141.65,121.43 142.14,121.08 142.62,120.02 143.11,118.85 143.59,119.36 144.08,120.20 144.57,120.84 145.05,121.29 145.54,120.77 146.02,119.57 146.51,118.97 147.00,118.74 147.48,120.11 147.97,121.69 148.45,120.49 148.94,118.05 149.43,118.03 149.91,118.98 150.40,119.06 150.88,118.89 151.37,118.70 151.85,118.81 152.34,118.81 152.83,119.73 153.31,120.13 153.80,118.99 154.28,118.06 154.77,118.13 155.26,119.34 155.74,120.77 156.23,121.08 156.71,119.69 157.20,117.91 157.69,116.84 158.17,118.09 158.66,119.45 159.14,120.39 159.63,120.41 160.12,119.19 160.60,118.27 161.09,117.89 161.57,118.04 162.06,119.02 162.54,117.47 163.03,115.73 163.52,114.30 164.00,115.87 164.49,117.64 164.97,119.49 165.46,120.26 165.95,119.62 166.43,118.83 166.92,118.49 167.40,117.38 167.89,116.50 168.38,116.33 168.86,117.48 169.35,119.48 169.83,120.27 170.32,119.90 170.80,119.23 171.29,117.58 171.78,116.57 172.26,117.19 172.75,118.41 173.23,120.59 173.72,121.31 174.21,120.35 174.69,118.98 175.18,118.31 175.66,117.92 176.15,118.38 176.64,119.84 177.12,121.18 177.61,121.81 178.09,121.16 178.58,119.87 179.07,118.36 179.55,118.70 180.04,120.89 180.52,122.09 181.01,121.71 181.49,120.39 181.98,118.17 182.47,117.12 182.95,117.56 183.44,118.18 183.92,118.98 184.41,119.47 184.90,118.90 185.38,119.59 185.87,119.97 186.35,120.65 186.84,120.77 187.33,119.77 187.81,118.57 188.30,117.63 188.78,117.78 189.27,118.91 189.75,119.68 190.24,119.81 190.73,118.96 191.21,118.76 191.70,118.90 192.18,119.35 192.67,119.17 193.16,118.66 193.64,117.17 194.13,117.23 194.61,118.16 195.10,118.16 195.59,118.22 196.07,117.90 196.56,117.33 197.04,116.01 197.53,115.69 198.01,116.66 198.50,117.45 198.99,118.64 199.47,118.31 199.96,117.48 200.44,116.56 200.93,116.44 201.42,117.54 201.90,118.91 202.39,119.77 202.87,119.45 203.36,117.10 203.85,116.00 204.33,116.93 204.82,118.02 205.30,118.64 205.79,119.03 206.28,118.75 206.76,117.24 207.25,115.98 207.73,115.78 208.22,117.16 208.70,118.20 209.19,118.57 209.68,118.90 210.16,117.69 210.65,116.56 211.13,116.60 211.62,116.37 212.11,114.80 212.59,115.32 213.08,116.93 213.56,117.87 214.05,118.00 214.54,117.76 215.02,116.51 215.51,115.04 215.99,114.69 216.48,115.16 216.96,116.98 217.45,117.93 217.94,117.53 218.42,116.27 218.91,114.89 219.39,114.91 219.88,115.67 220.37,116.18 220.85,116.91 221.34,116.88 221.82,116.13 222.31,115.64 222.80,115.37 223.28,115.42 223.77,115.58 224.25,116.13 224.74,115.84 225.23,115.97 225.71,116.38 226.20,115.33 226.68,114.61 227.17,115.36 227.65,115.70 228.14,115.27 228.63,115.67 229.11,114.49 229.60,113.63 230.08,113.76 230.57,114.85 231.06,115.50 231.54,114.50 232.03,113.72 232.51,113.65 233.00,113.01 233.49,113.38 233.97,114.24 234.46,115.28 234.94,115.85 235.43,115.81 235.91,115.04 236.40,113.86 236.89,113.71 237.37,114.49 237.86,115.10 238.34,114.95 238.83,114.40 239.32,113.88 239.80,113.42 240.29,112.98 240.77,112.55 241.26,112.57 241.75,112.26 242.23,113.43 242.72,115.01 243.20,115.61 243.69,115.21 244.18,114.04 244.66,113.34 245.15,113.78 245.63,113.90 246.12,114.39 246.60,114.82 247.09,114.27 247.58,113.95 248.06,114.04 248.55,113.83 249.03,113.89 249.52,114.02 250.01,113.34 250.49,112.80 250.98,113.02 251.46,114.68 251.95,115.34 252.44,114.35 252.92,113.22 253.41,114.03 253.89,116.13 254.38,116.68 254.86,116.04 255.35,113.78 255.84,111.79 256.32,112.34 256.81,113.70 257.29,115.94 257.78,117.60 258.27,116.04 258.75,114.11 259.24,113.54 259.72,114.31 260.21,115.15 260.70,115.99 261.18,116.54 261.67,116.08 262.15,115.43 262.64,115.09 263.13,115.16 263.61,115.25 264.10,115.37 264.58,115.40 265.07,115.40 265.55,115.61 266.04,115.56 266.53,116.12 267.01,115.94 267.50,115.33 267.98,115.06 268.47,113.71 268.96,112.80 269.44,113.19 269.93,113.92 270.41,114.66 270.90,115.09 271.39,115.04 271.87,114.62 272.36,113.47 272.84,112.47 273.33,112.23 273.81,112.84 274.30,112.76 274.79,112.88 275.27,113.95 275.76,114.98 276.24,115.28 276.73,114.42 277.22,113.27 277.70,113.65 278.19,113.94 278.67,114.10 279.16,114.13 279.65,114.81 280.13,115.44 280.62,114.77 281.10,113.92 281.59,112.70 282.08,113.00 282.56,114.38 283.05,115.90 283.53,115.47 284.02,114.65 284.50,114.27 284.99,114.09 285.48,113.77 285.96,114.42 286.45,115.11 286.93,114.50 287.42,113.76 287.91,113.79 288.39,114.23 288.88,113.51 289.36,112.92 289.85,112.74 290.34,112.67 290.82,113.08 291.31,113.30 291.79,113.59 292.28,112.88 292.76,111.42 293.25,110.48 293.74,111.14 294.22,111.86 294.71,111.02 295.19,110.59 295.68,110.55 296.17,111.42 296.65,112.58 297.14,112.77 297.62,111.27 298.11,110.11 298.60,110.60 299.08,111.46 299.57,111.52 300.05,110.18 300.54,108.44 301.02,107.97 301.51,109.82 302.00,112.34 302.48,113.51 302.97,111.02 303.45,109.53 303.94,109.25 304.43,109.42 304.91,109.94 305.40,110.44 305.88,110.08 306.37,109.24 306.86,110.08 307.34,111.99 307.83,112.28 308.31,110.64 308.80,109.53 309.29,109.06 309.77,110.20 310.26,112.35 310.74,113.14 311.23,112.64 311.71,110.81 312.20,107.93 312.69,107.74 313.17,110.29 313.66,112.89 314.14,113.66 314.63,113.01 315.12,111.67 315.60,110.59 316.09,109.18 316.57,109.02 317.06,111.33 317.55,112.90 318.03,112.66 318.52,112.44 319.00,112.73 319.49,111.96 319.97,111.75 320.46,112.24 320.95,113.79 321.43,114.93 321.92,113.97 322.40,112.92 322.89,113.43 323.38,113.08 323.86,112.75 324.35,112.97 324.83,113.21 325.32,112.92 325.81,112.18 326.29,112.50 326.78,113.03 327.26,113.23 327.75,113.05 328.24,111.78 328.72,111.16 329.21,111.63 329.69,111.94 330.18,112.78 330.66,112.71 331.15,112.26 331.64,111.23 332.12,110.73 332.61,110.37 333.09,110.54 333.58,111.36 334.07,112.29 334.55,113.21 335.04,112.86 335.52,110.70 336.01,109.29 336.50,109.26 336.98,110.32 337.47,112.35 337.95,112.91 338.44,110.86 338.92,109.24 339.41,108.83 339.90,109.31 340.38,110.59 340.87,111.49 341.35,110.52 341.84,108.80 342.33,107.49 342.81,107.78 343.30,109.01 343.78,110.28 344.27,111.03 344.76,110.37 345.24,109.65 345.73,110.46 346.21,110.68 346.70,110.64 347.19,111.37 347.67,110.90 348.16,108.48 348.64,106.66 349.13,106.54 349.61,108.09 350.10,110.05 350.59,110.82 351.07,112.25 351.56,111.48 352.04,108.41 352.53,105.90 353.02,105.24 353.50,106.19 353.99,108.26 354.47,110.68 354.96,111.89 355.45,110.62 355.93,108.26 356.42,106.63 356.90,106.68 357.39,108.01 357.87,109.00 358.36,109.60 358.85,109.91 359.33,109.71 359.82,108.39 360.30,108.00 360.79,109.25 361.28,110.06 361.76,109.52 362.25,109.16 362.73,109.38 363.22,109.73 363.71,110.33 364.19,110.21 364.68,108.94 365.16,109.42 365.65,110.94 366.14,110.71 366.62,110.53 367.11,111.44 367.59,111.50 368.08,111.48 368.56,112.01 369.05,111.23 369.54,109.34 370.02,107.86 370.51,108.00 370.99,109.55 371.48,110.78 371.97,110.22 372.45,108.57 372.94,107.43 373.42,107.02 373.91,107.10 374.40,106.07 374.88,104.06 375.37,104.35 375.85,106.41 376.34,108.23 376.82,108.41 377.31,106.98 377.80,106.45 378.28,105.64 378.77,105.76 379.25,106.89 379.74,107.15 380.23,107.36 380.71,107.31 381.20,107.21 381.68,107.40 382.17,106.99 382.66,107.95 383.14,108.88 383.63,109.13 384.11,107.52 384.60,105.75 385.09,106.43 385.57,107.81 386.06,108.72 386.54,109.46 387.03,108.74 387.51,107.48 388.00,106.97 388.49,107.27 388.97,108.39 389.46,109.04 389.94,110.59 390.43,111.38 390.92,109.80 391.40,107.84 391.89,106.74 392.37,108.60 392.86,110.97 393.35,111.09 393.83,109.81 394.32,108.83 394.80,107.84 395.29,106.62 395.77,105.78 396.26,104.87 396.75,105.49 397.23,107.70 397.72,109.77 398.20,110.75 398.69,109.06 399.18,107.05 399.66,104.70 400.15,102.68 400.63,102.06 401.12,103.58 401.61,107.00 402.09,109.90 402.58,109.76 403.06,107.19 403.55,102.69 404.03,99.77 404.52,101.14 405.01,105.48 405.49,106.32 405.98,103.70 406.46,101.01 406.95,102.34 407.44,102.10 407.92,102.35 408.41,104.44 408.89,106.21 409.38,106.09 409.87,105.27 410.35,103.22 410.84,103.55 411.32,105.13 411.81,106.94 412.30,107.82 412.78,107.00 413.27,103.82 413.75,102.74 414.24,104.15 414.72,107.65 415.21,110.15 415.70,111.30 416.18,109.52 416.67,106.60 417.15,104.67 417.64,103.82 418.13,103.87 418.61,106.43 419.10,107.90 419.58,107.94 420.07,107.93 420.56,108.92 421.04,108.47 421.53,107.37 422.01,107.09 422.50,107.08 422.98,107.91 423.47,108.51 423.96,108.48 424.44,107.81 424.93,107.65 425.41,108.71 425.90,109.65 426.39,109.36 426.87,110.13 427.36,110.77 427.84,109.78 428.33,108.18 428.82,109.09 429.30,110.79 429.79,110.97 430.27,108.31 430.76,105.92 431.25,106.75 431.73,109.75 432.22,111.58 432.70,111.76 433.19,110.38 433.67,107.37 434.16,104.18 434.65,102.65 435.13,105.59 435.62,109.50 436.10,109.48 436.59,106.56 437.08,104.67 437.56,105.64 438.05,108.34 438.53,109.06 439.02,106.83 439.51,104.06 439.99,103.49 440.48,105.31 440.96,106.87 441.45,106.83 441.93,107.57 442.42,106.61 442.91,105.15 443.39,104.06 443.88,104.32 444.36,107.27 444.85,107.81 445.34,104.82 445.82,102.38 446.31,101.48 446.79,99.95 447.28,101.59 447.77,101.14 448.25,98.66 448.74,100.29 449.22,103.52 449.71,107.57 450.20,108.83 450.68,106.36 451.17,102.13 451.65,100.97 452.14,103.70 452.62,107.08 453.11,108.21 453.60,105.67 454.08,103.91 454.57,101.58 455.05,99.53 455.54,100.95 456.03,102.85 456.51,102.59 457.00,102.21 457.48,101.79 457.97,101.21 458.46,99.49 458.94,99.83 459.43,101.97 459.91,103.65 460.40,104.08 460.88,103.94 461.37,102.58 461.86,101.52 462.34,100.38 462.83,98.07 463.31,96.74 463.80,95.47 464.29,92.50 464.77,96.24 465.26,100.03 465.74,99.91 466.23,96.07 466.72,95.86 467.20,99.02 467.69,101.16 468.17,101.77 468.66,100.67 469.15,99.42 469.63,98.04 470.12,96.54 470.60,95.88 471.09,96.83 471.57,99.45 472.06,101.54 472.55,101.67 473.03,102.29 473.52,101.50 474.00,99.06 474.49,96.15 474.98,94.77 475.46,94.88 475.95,97.61 476.43,102.33 476.92,107.19 477.41,105.24 477.89,101.38 478.38,97.01 478.86,93.02 479.35,94.08 479.83,98.03 480.32,101.95 480.81,102.98 481.29,101.92 481.78,100.56 482.26,99.17 482.75,97.43 483.24,96.83 483.72,97.58 484.21,98.87 484.69,98.61 485.18,97.72 485.67,97.43 486.15,94.52 486.64,91.50 487.12,87.72 487.61,91.86 488.10,95.67 488.58,98.34 489.07,98.51 489.55,99.60 490.04,100.36 490.52,101.25 491.01,98.80 491.50,96.07 491.98,96.47 492.47,100.43 492.95,103.23 493.44,102.55 493.93,99.86 494.41,96.80 494.90,94.33 495.38,94.03 495.87,93.36 496.36,91.70 496.84,89.84 497.33,92.12 497.81,96.00 498.30,99.16 498.78,96.77 499.27,96.62 499.76,96.60 500.24,95.21 500.73,96.41 501.21,97.44 501.70,98.41 502.19,100.13 502.67,100.73 503.16,99.31 503.64,97.03 504.13,95.35 504.62,94.64 505.10,97.05 505.59,100.66 506.07,99.10 506.56,95.60 507.04,93.22 507.53,90.84 508.02,92.70 508.50,97.44 508.99,99.66 509.47,97.80 509.96,96.41 510.45,97.82 510.93,93.82 511.42,88.32 511.90,83.99 512.39,88.17 512.88,92.76 513.36,97.23 513.85,97.88 514.33,97.70 514.82,96.14 515.31,95.43 515.79,88.59 516.28,80.71 516.76,73.62 517.25,80.29 517.73,85.64 518.22,92.41 518.71,95.51 519.19,99.56 519.68,99.18 520.16,95.83 520.65,92.76 521.14,88.10 521.62,84.47 522.11,87.21 522.59,95.41 523.08,100.31 523.57,101.51 524.05,96.89 524.54,90.51 525.02,90.88 525.51,93.81 525.99,95.16 526.48,94.62 526.97,94.34 527.45,91.94 527.94,90.66 528.42,92.68 528.91,89.19 529.40,75.57 529.88,64.32 530.37,58.04 530.85,49.70 531.34,59.89 531.83,71.25 532.31,80.62 532.80,88.22 533.28,87.64 533.77,90.42 534.26,92.15 534.74,93.37 535.23,93.41 535.71,82.07 536.20,75.38 536.68,70.97 537.17,78.73 537.66,89.76 538.14,99.89 538.63,94.95 539.11,88.34" fill="none" stroke="#3c3cc0" stroke-width="0.6" stroke-opacity="1.0" stroke-linejoin="round"/>
</g>
<g>
<polyline points="43.50,273.80 43.99,273.50 44.47,273.33 44.96,273.08 45.44,272.83 45.93,272.77 46.42,272.84 46.90,272.98 47.39,273.37 47.87,273.98 48.36,274.43 48.84,274.53 49.33,274.56 49.82,274.39 50.30,274.16 50.79,274.01 51.27,273.94 51.76,274.07 52.25,274.38 52.73,274.56 53.22,274.46 53.70,274.35 54.19,274.50 54.68,273.88 55.16,273.31 55.65,273.03 56.13,269.92 56.62,266.81 57.11,269.92 57.59,273.03 58.08,273.59 58.56,273.35 59.05,273.42 59.53,273.71 60.02,274.11 60.51,274.44 60.99,274.46 61.48,274.26 61.96,274.10 62.45,274.20 62.94,274.47 63.42,274.47 63.91,274.49 64.39,274.50 64.88,274.44 65.37,274.47 65.85,274.49 66.34,274.35 66.82,274.22 67.31,274.05 67.79,273.85 68.28,273.73 68.77,273.60 69.25,273.35 69.74,273.20 70.22,273.45 70.71,273.89 71.20,274.15 71.68,274.31 72.17,274.51 72.65,274.43 73.14,274.46 73.63,274.49 74.11,274.41 74.60,274.44 75.08,273.96 75.57,273.70 76.06,274.05 76.54,274.19 77.03,273.58 77.51,273.73 78.00,274.27 78.48,274.38 78.97,273.95 79.46,273.64 79.94,273.85 80.43,274.28 80.91,274.48 81.40,274.33 81.89,274.24 82.37,274.29 82.86,274.45 83.34,274.49 83.83,274.25 84.32,273.92 84.80,273.82 85.29,274.08 85.77,274.37 86.26,274.47 86.74,274.33 87.23,273.76 87.72,273.22 88.20,273.23 88.69,273.82 89.17,274.37 89.66,274.26 90.15,273.67 90.63,272.61 91.12,271.17 91.60,272.61 92.09,274.04 92.58,274.03 93.06,274.09 93.55,274.39 94.03,274.15 94.52,273.82 95.00,273.78 95.49,274.07 95.98,274.34 96.46,273.60 96.95,273.11 97.43,273.23 97.92,273.84 98.41,274.46 98.89,273.85 99.38,273.34 99.86,273.03 100.35,273.11 100.84,273.60 101.32,274.35 101.81,273.91 102.29,273.45 102.78,273.27 103.27,273.32 103.75,273.58 104.24,273.85 104.72,273.85 105.21,273.60 105.69,273.53 106.18,273.97 106.67,274.31 107.15,273.92 107.64,274.00 108.12,274.10 108.61,273.53 109.10,272.15 109.58,270.57 110.07,269.68 110.55,270.03 111.04,271.20 111.53,271.99 112.01,271.88 112.50,271.78 112.98,272.22 113.47,269.59 113.95,266.28 114.44,269.59 114.93,271.30 115.41,271.88 115.90,272.94 116.38,273.82 116.87,272.52 117.36,271.80 117.84,271.96 118.33,272.79 118.81,273.86 119.30,273.34 119.79,272.52 120.27,268.55 120.76,264.57 121.24,268.55 121.73,272.52 122.22,273.22 122.70,272.68 123.19,272.10 123.67,271.70 124.16,271.78 124.64,272.06 125.13,271.96 125.62,269.13 126.10,259.51 126.59,249.88 127.07,259.51 127.56,269.13 128.05,272.19 128.53,271.73 129.02,272.28 129.50,273.08 129.99,273.48 130.48,273.52 130.96,273.40 131.45,273.61 131.93,273.31 132.42,271.88 132.90,269.33 133.39,265.85 133.88,269.33 134.36,271.77 134.85,272.47 135.33,273.12 135.82,273.69 136.31,273.78 136.79,273.26 137.28,272.96 137.76,273.72 138.25,272.27 138.74,270.54 139.22,270.55 139.71,271.85 140.19,272.81 140.68,269.33 141.17,265.85 141.65,269.33 142.14,269.47 142.62,269.03 143.11,268.69 143.59,267.95 144.08,267.47 144.57,268.50 145.05,271.47 145.54,272.86 146.02,270.61 146.51,270.67 147.00,272.53 147.48,273.02 147.97,271.68 148.45,270.31 148.94,267.45 149.43,270.31 149.91,273.18 150.40,272.90 150.88,271.21 151.37,270.28 151.85,270.91 152.34,272.70 152.83,272.90 153.31,270.77 153.80,269.81 154.28,269.88 154.77,269.89 155.26,269.56 155.74,269.52 156.23,269.88 156.71,269.83 157.20,269.03 157.69,268.59 158.17,269.43 158.66,270.54 159.14,270.77 159.63,270.69 160.12,271.20 160.60,272.06 161.09,272.92 161.57,273.76 162.06,273.52 162.54,273.32 163.03,273.70 163.52,273.69 164.00,273.89 164.49,273.06 164.97,271.77 165.46,270.34 165.95,269.66 166.43,270.79 166.92,273.06 167.40,273.07 167.89,272.45 168.38,270.31 168.86,267.45 169.35,270.31 169.83,271.38 170.32,271.59 170.80,272.52 171.29,273.82 171.78,273.34 172.26,273.86 172.75,272.57 173.23,269.66 173.72,266.38 174.21,269.66 174.69,272.93 175.18,272.92 175.66,272.44 176.15,272.16 176.64,271.90 177.12,266.91 177.61,261.91 178.09,266.91 178.58,270.61 179.07,271.46 179.55,269.00 180.04,259.18 180.52,249.35 181.01,259.18 181.49,269.00 181.98,273.27 182.47,272.54 182.95,270.75 183.44,269.70 183.92,270.48 184.41,272.84 184.90,272.65 185.38,271.40 185.87,270.79 186.35,270.17 186.84,270.48 187.33,272.42 187.81,273.50 188.30,273.28 188.78,273.60 189.27,272.44 189.75,268.35 190.24,264.25 190.73,268.35 191.21,269.83 191.70,272.20 192.18,272.09 192.67,270.65 193.16,271.90 193.64,272.81 194.13,269.33 194.61,265.85 195.10,268.29 195.59,269.36 196.07,270.74 196.56,271.27 197.04,270.83 197.53,270.34 198.01,270.49 198.50,270.94 198.99,271.50 199.47,272.54 199.96,268.61 200.44,264.68 200.93,268.61 201.42,268.46 201.90,269.43 202.39,272.06 202.87,273.12 203.36,271.73 203.85,271.60 204.33,269.99 204.82,266.92 205.30,269.99 205.79,272.84 206.28,271.14 206.76,267.93 207.25,267.64 207.73,270.67 208.22,272.97 208.70,271.04 209.19,272.13 209.68,273.56 210.16,272.68 210.65,273.39 211.13,272.94 211.62,271.17 212.11,264.94 212.59,258.72 213.08,264.94 213.56,271.17 214.05,272.65 214.54,272.49 215.02,272.16 215.51,272.10 215.99,272.65 216.48,271.90 216.96,266.91 217.45,261.91 217.94,266.91 218.42,271.24 218.91,272.77 219.39,273.32 219.88,272.73 220.37,273.23 220.85,273.64 221.34,273.02 221.82,272.06 222.31,272.05 222.80,272.74 223.28,272.74 223.77,272.03 224.25,271.90 224.74,272.62 225.23,273.64 225.71,272.76 226.20,271.19 226.68,270.08 227.17,270.21 227.65,271.34 228.14,272.74 228.63,273.81 229.11,273.44 229.60,273.02 230.08,272.90 230.57,273.35 231.06,274.11 231.54,273.18 232.03,270.31 232.51,267.45 233.00,270.31 233.49,271.13 233.97,271.35 234.46,272.36 234.94,273.53 235.43,274.18 235.91,274.20 236.40,274.26 236.89,273.58 237.37,272.61 237.86,271.98 238.34,271.76 238.83,271.66 239.32,271.59 239.80,271.82 240.29,272.30 240.77,272.86 241.26,273.73 241.75,273.57 242.23,272.77 242.72,272.86 243.20,273.45 243.69,274.06 244.18,272.81 244.66,269.33 245.15,265.85 245.63,269.33 246.12,272.81 246.60,271.33 247.09,269.29 247.58,268.71 248.06,269.42 248.55,269.97 249.03,270.16 249.52,271.56 250.01,272.20 250.49,269.84 250.98,269.98 251.46,272.03 251.95,272.90 252.44,272.60 252.92,273.12 253.41,271.00 253.89,268.58 254.38,267.75 254.86,269.32 255.35,272.25 255.84,268.35 256.32,264.25 256.81,268.35 257.29,272.43 257.78,269.35 258.27,263.44 258.75,256.27 259.24,263.44 259.72,270.57 260.21,271.95 260.70,267.04 261.18,262.13 261.67,267.04 262.15,271.95 262.64,272.11 263.13,270.68 263.61,269.62 264.10,270.20 264.58,271.87 265.07,273.36 265.55,272.54 266.04,272.81 266.53,273.29 267.01,272.93 267.50,269.66 267.98,266.38 268.47,269.62 268.96,269.62 269.44,269.99 269.93,266.92 270.41,269.99 270.90,272.86 271.39,273.01 271.87,272.91 272.36,273.12 272.84,273.17 273.33,272.63 273.81,273.06 274.30,271.62 274.79,269.58 275.27,271.62 275.76,272.39 276.24,273.28 276.73,272.15 277.22,270.69 277.70,270.23 278.19,271.04 278.67,272.37 279.16,273.40 279.65,272.89 280.13,271.92 280.62,271.15 281.10,271.03 281.59,271.56 282.08,270.01 282.56,261.86 283.05,253.72 283.53,261.86 284.02,270.01 284.50,273.32 284.99,273.45 285.48,272.69 285.96,269.99 286.45,266.92 286.93,269.99 287.42,270.51 287.91,270.61 288.39,272.92 288.88,272.48 289.36,271.85 289.85,272.55 290.34,273.70 290.82,274.31 291.31,274.16 291.79,274.33 292.28,274.19 292.76,273.72 293.25,273.54 293.74,273.84 294.22,274.43 294.71,274.02 295.19,273.92 295.68,274.29 296.17,274.09 296.65,273.69 297.14,273.58 297.62,273.77 298.11,274.35 298.60,273.81 299.08,273.30 299.57,273.32 300.05,273.63 300.54,273.87 301.02,273.93 301.51,273.89 302.00,273.84 302.48,273.31 302.97,273.42 303.45,273.63 303.94,272.90 304.43,269.99 304.91,266.92 305.40,269.99 305.88,270.92 306.37,267.92 306.86,266.44 307.34,265.79 307.83,264.53 308.31,263.13 308.80,263.04 309.29,264.56 309.77,267.08 310.26,270.49 310.74,271.01 311.23,267.86 311.71,267.01 312.20,268.55 312.69,271.79 313.17,270.43 313.66,268.87 314.14,269.42 314.63,271.10 315.12,272.65 315.60,271.83 316.09,272.42 316.57,272.70 317.06,271.28 317.55,270.10 318.03,268.35 318.52,264.25 319.00,268.35 319.49,264.25 319.97,265.31 320.46,263.71 320.95,262.66 321.43,264.98 321.92,270.81 322.40,269.64 322.89,268.23 323.38,269.14 323.86,270.01 324.35,269.78 324.83,269.01 325.32,269.28 325.81,270.75 326.29,272.00 326.78,271.98 327.26,270.12 327.75,267.19 328.24,265.55 328.72,265.95 329.21,264.79 329.69,267.66 330.18,267.60 330.66,266.91 331.15,266.04 331.64,264.87 332.12,264.04 332.61,265.58 333.09,270.17 333.58,270.45 334.07,268.46 334.55,269.04 335.04,265.40 335.52,259.46 336.01,265.40 336.50,268.51 336.98,270.07 337.47,271.49 337.95,271.83 338.44,271.97 338.92,272.37 339.41,272.09 339.90,271.15 340.38,271.14 340.87,268.02 341.35,263.72 341.84,268.02 342.33,272.25 342.81,272.74 343.30,272.64 343.78,272.46 344.27,272.00 344.76,272.32 345.24,271.31 345.73,269.32 346.21,269.14 346.70,270.73 347.19,272.84 347.67,273.61 348.16,272.83 348.64,272.35 349.13,273.05 349.61,274.23 350.10,273.03 350.59,272.86 351.07,273.78 351.56,273.45 352.04,272.33 352.53,272.34 353.02,273.12 353.50,273.76 353.99,273.98 354.47,274.14 354.96,274.23 355.45,273.83 355.93,270.90 356.42,264.22 356.90,257.55 357.39,264.22 357.87,270.90 358.36,274.10 358.85,274.21 359.33,274.28 359.82,274.13 360.30,273.75 360.79,273.33 361.28,273.02 361.76,272.93 362.25,273.20 362.73,271.95 363.22,270.11 363.71,271.95 364.19,273.79 364.68,274.07 365.16,273.83 365.65,273.38 366.14,273.32 366.62,273.92 367.11,274.09 367.59,273.80 368.08,274.03 368.56,274.10 369.05,273.53 369.54,273.37 370.02,273.51 370.51,273.30 370.99,272.82 371.48,272.13 371.97,271.62 372.45,270.65 372.94,268.60 373.42,266.06 373.91,267.08 374.40,267.89 374.88,269.28 375.37,271.59 375.85,273.39 376.34,271.88 376.82,271.32 377.31,271.44 377.80,271.65 378.28,271.23 378.77,270.53 379.25,270.69 379.74,271.87 380.23,273.07 380.71,272.97 381.20,271.51 381.68,269.53 382.17,267.98 382.66,267.62 383.14,269.11 383.63,271.86 384.11,273.23 384.60,270.97 385.09,268.51 385.57,268.33 386.06,267.51 386.54,267.36 387.03,268.11 387.51,269.31 388.00,270.36 388.49,271.32 388.97,271.60 389.46,270.53 389.94,269.68 390.43,271.08 390.92,272.26 391.40,270.75 391.89,270.38 392.37,269.85 392.86,269.12 393.35,268.79 393.83,268.89 394.32,265.14 394.80,259.04 395.29,265.14 395.77,267.09 396.26,267.15 396.75,264.96 397.23,261.91 397.72,261.18 398.20,263.31 398.69,255.58 399.18,243.50 399.66,255.58 400.15,264.29 400.63,262.67 401.12,261.83 401.61,262.28 402.09,263.62 402.58,264.94 403.06,264.06 403.55,262.58 404.03,257.21 404.52,246.16 405.01,257.21 405.49,260.54 405.98,263.43 406.46,264.31 406.95,263.78 407.44,265.25 407.92,263.23 408.41,262.95 408.89,264.51 409.38,265.19 409.87,263.47 410.35,258.67 410.84,253.28 411.32,249.88 411.81,249.40 412.30,251.18 412.78,254.00 413.27,248.29 413.75,258.52 414.24,261.52 414.72,264.04 415.21,264.88 415.70,260.16 416.18,250.95 416.67,260.16 417.15,264.16 417.64,263.66 418.13,266.92 418.61,270.78 419.10,272.83 419.58,272.97 420.07,273.19 420.56,272.89 421.04,271.98 421.53,272.17 422.01,272.96 422.50,269.38 422.98,267.59 423.47,268.72 423.96,271.63 424.44,272.90 424.93,270.45 425.41,268.97 425.90,268.22 426.39,268.42 426.87,269.92 427.36,272.32 427.84,268.41 428.33,264.36 428.82,268.41 429.30,272.47 429.79,273.28 430.27,273.36 430.76,272.76 431.25,270.11 431.73,262.13 432.22,254.14 432.70,262.13 433.19,270.11 433.67,270.60 434.16,270.89 434.65,271.39 435.13,272.38 435.62,273.48 436.10,273.32 436.59,272.47 437.08,271.79 437.56,272.22 438.05,273.60 438.53,271.43 439.02,269.93 439.51,268.80 439.99,267.54 440.48,266.05 440.96,265.34 441.45,265.23 441.93,265.67 442.42,266.49 442.91,266.52 443.39,265.73 443.88,265.65 444.36,267.40 444.85,270.23 445.34,272.67 445.82,272.18 446.31,271.11 446.79,268.95 447.28,266.08 447.77,264.01 448.25,263.53 448.74,264.78 449.22,267.08 449.71,269.16 450.20,270.35 450.68,271.48 451.17,270.68 451.65,266.98 452.14,264.54 452.62,264.79 453.11,266.77 453.60,268.45 454.08,269.02 454.57,269.25 455.05,269.74 455.54,269.89 456.03,269.35 456.51,267.54 457.00,264.54 457.48,262.98 457.97,255.53 458.46,262.98 458.94,265.54 459.43,264.15 459.91,263.77 460.40,265.74 460.88,270.57 461.37,267.40 461.86,263.36 462.34,261.79 462.83,261.28 463.31,261.82 463.80,265.58 464.29,271.30 464.77,264.34 465.26,261.42 465.74,263.41 466.23,261.67 466.72,253.40 467.20,260.48 467.69,263.93 468.17,271.02 468.66,261.81 469.15,256.91 469.63,254.44 470.12,251.65 470.60,250.14 471.09,251.10 471.57,253.02 472.06,256.49 472.55,263.12 473.03,270.84 473.52,268.96 474.00,263.44 474.49,256.27 474.98,263.44 475.46,270.60 475.95,271.45 476.43,272.00 476.92,272.36 477.41,271.66 477.89,269.25 478.38,267.02 478.86,265.94 479.35,260.53 479.83,262.14 480.32,257.66 480.81,255.23 481.29,257.79 481.78,262.05 482.26,261.83 482.75,256.91 483.24,253.43 483.72,255.18 484.21,259.85 484.69,264.87 485.18,262.26 485.67,254.36 486.15,262.26 486.64,267.64 487.12,272.57 487.61,268.75 488.10,267.13 488.58,268.27 489.07,271.58 489.55,269.78 490.04,265.57 490.52,260.89 491.01,257.45 491.50,256.94 491.98,260.23 492.47,266.68 492.95,272.52 493.44,270.78 493.93,271.84 494.41,271.44 494.90,267.90 495.38,261.96 495.87,246.01 496.36,226.76 496.84,207.50 497.33,188.24 497.81,168.98 498.30,188.24 498.78,207.50 499.27,226.76 499.76,246.01 500.24,265.27 500.73,267.71 501.21,270.28 501.70,269.76 502.19,264.56 502.67,260.63 503.16,258.39 503.64,259.39 504.13,260.49 504.62,251.48 505.10,260.49 505.59,264.04 506.07,264.93 506.56,268.18 507.04,271.76 507.53,268.44 508.02,268.29 508.50,268.64 508.99,258.20 509.47,247.76 509.96,257.60 510.45,255.50 510.93,260.64 511.42,267.92 511.90,269.36 512.39,262.18 512.88,252.01 513.36,247.60 513.85,251.51 514.33,258.84 514.82,264.41 515.31,266.17 515.79,264.46 516.28,262.35 516.76,263.52 517.25,268.37 517.73,269.41 518.22,263.74 518.71,261.96 519.19,265.79 519.68,272.01 520.16,268.46 520.65,269.83 521.14,270.48 521.62,263.11 522.11,255.74 522.59,263.11 523.08,260.89 523.57,254.94 524.05,258.43 524.54,268.34 525.02,271.03 525.51,268.00 525.99,260.99 526.48,258.18 526.97,258.20 527.45,259.64 527.94,264.72 528.42,256.36 528.91,244.77 529.40,256.36 529.88,261.51 530.37,264.78 530.85,271.01 531.34,269.89 531.83,270.10 532.31,264.88 532.80,255.90 533.28,244.03 533.77,255.90 534.26,267.47 534.74,260.19 535.23,255.62 535.71,259.96 536.20,268.97 536.68,257.11 537.17,245.25 537.66,233.38 538.14,245.25 538.63,257.11 539.11,268.05" fill="none" stroke="#303030" stroke-width="0.6" stroke-opacity="1.0" stroke-linejoin="round"/>
<polyline points="43.50,274.21 43.99,274.54 44.47,274.17 44.96,273.94 45.44,273.81 45.93,273.77 46.42,273.85 46.90,273.98 47.39,274.06 47.87,274.07 48.36,274.01 48.84,273.82 49.33,273.57 49.82,273.52 50.30,273.75 50.79,274.08 51.27,274.38 51.76,274.41 52.25,273.95 52.73,273.64 53.22,273.71 53.70,273.93 54.19,274.03 54.68,274.02 55.16,274.14 55.65,274.56 56.13,273.95 56.62,273.60 57.11,273.80 57.59,274.29 58.08,274.38 58.56,274.06 59.05,273.80 59.53,273.48 60.02,273.02 60.51,272.59 60.99,272.37 61.48,272.30 61.96,272.32 62.45,272.62 62.94,273.24 63.42,274.00 63.91,274.33 64.39,273.59 64.88,272.77 65.37,273.49 65.85,273.78 66.34,273.64 66.82,273.18 67.31,272.99 67.79,273.37 68.28,274.06 68.77,274.32 69.25,273.78 69.74,273.59 70.22,273.88 70.71,274.49 71.20,274.03 71.68,273.98 72.17,274.47 72.65,273.96 73.14,273.56 73.63,273.50 74.11,273.81 74.60,274.45 75.08,274.03 75.57,273.93 76.06,274.18 76.54,274.36 77.03,274.40 77.51,274.45 78.00,274.50 78.48,274.49 78.97,274.44 79.46,274.48 79.94,274.49 80.43,274.43 80.91,274.20 81.40,273.71 81.89,273.18 82.37,272.96 82.86,273.17 83.34,273.55 83.83,273.83 84.32,274.06 84.80,274.39 85.29,274.27 85.77,274.06 86.26,274.00 86.74,273.84 87.23,273.54 87.72,273.45 88.20,273.80 88.69,274.23 89.17,274.26 89.66,273.85 90.15,273.50 90.63,273.60 91.12,274.01 91.60,274.29 92.09,274.36 92.58,274.42 93.06,274.03 93.55,273.95 94.03,274.44 94.52,273.90 95.00,273.69 95.49,274.15 95.98,274.10 96.46,273.57 96.95,273.50 97.43,273.91 97.92,274.35 98.41,274.33 98.89,274.06 99.38,274.07 99.86,274.45 100.35,274.19 100.84,274.16 101.32,274.27 101.81,274.37 102.29,274.44 102.78,274.07 103.27,273.52 103.75,273.02 104.24,272.92 104.72,273.21 105.21,273.62 105.69,274.07 106.18,274.31 106.67,273.81 107.15,273.60 107.64,273.65 108.12,273.85 108.61,274.16 109.10,274.20 109.58,274.07 110.07,274.03 110.55,273.56 111.04,272.71 111.53,271.77 112.01,271.12 112.50,271.59 112.98,272.66 113.47,273.28 113.95,272.94 114.44,272.55 114.93,273.32 115.41,272.94 115.90,271.15 116.38,270.07 116.87,269.77 117.36,270.38 117.84,272.02 118.33,273.77 118.81,271.36 119.30,269.26 119.79,268.50 120.27,269.57 120.76,270.77 121.24,270.58 121.73,270.41 122.22,271.98 122.70,273.83 123.19,272.75 123.67,272.83 124.16,272.84 124.64,272.11 125.13,271.14 125.62,270.69 126.10,270.69 126.59,270.77 127.07,271.19 127.56,271.78 128.05,266.58 128.53,261.38 129.02,266.58 129.50,271.78 129.99,272.20 130.48,267.69 130.96,263.19 131.45,267.69 131.93,272.20 132.42,273.38 132.90,273.85 133.39,273.67 133.88,273.37 134.36,273.75 134.85,273.53 135.33,272.52 135.82,268.55 136.31,264.57 136.79,268.55 137.28,272.52 137.76,271.50 138.25,271.01 138.74,271.75 139.22,272.77 139.71,272.87 140.19,271.94 140.68,270.86 141.17,270.83 141.65,272.31 142.14,273.64 142.62,272.44 143.11,272.79 143.59,273.64 144.08,272.14 144.57,270.97 145.05,268.51 145.54,270.97 146.02,271.95 146.51,271.47 147.00,271.14 147.48,271.81 147.97,273.17 148.45,273.61 148.94,272.59 149.43,271.27 149.91,270.10 150.40,269.87 150.88,270.02 151.37,269.66 151.85,269.45 152.34,267.89 152.83,263.51 153.31,267.89 153.80,272.27 154.28,273.42 154.77,270.60 155.26,263.44 155.74,256.27 156.23,263.44 156.71,268.76 157.20,266.99 157.69,266.49 158.17,265.53 158.66,269.14 159.14,272.74 159.63,273.20 160.12,273.70 160.60,272.46 161.09,270.97 161.57,271.05 162.06,272.42 162.54,273.11 163.03,271.93 163.52,270.46 164.00,270.94 164.49,273.23 164.97,272.40 165.46,270.99 165.95,270.34 166.43,271.04 166.92,273.18 167.40,273.04 167.89,273.18 168.38,270.31 168.86,267.45 169.35,270.31 169.83,269.80 170.32,269.00 170.80,269.85 171.29,271.68 171.78,269.99 172.26,266.92 172.75,269.99 173.23,272.28 173.72,271.39 174.21,271.77 174.69,272.95 175.18,273.50 175.66,272.38 176.15,272.30 176.64,273.66 177.12,272.08 177.61,270.37 178.09,269.73 178.58,270.38 179.07,272.34 179.55,273.08 180.04,271.02 180.52,264.55 181.01,258.08 181.49,264.55 181.98,271.02 182.47,271.59 182.95,270.78 183.44,269.18 183.92,268.28 184.41,269.13 184.90,271.81 185.38,272.45 185.87,269.59 186.35,268.22 186.84,268.39 187.33,270.44 187.81,273.78 188.30,271.49 188.78,270.91 189.27,271.49 189.75,272.02 190.24,272.19 190.73,272.45 191.21,273.30 191.70,273.16 192.18,272.37 192.67,273.09 193.16,272.99 193.64,271.53 194.13,269.33 194.61,265.85 195.10,269.33 195.59,272.81 196.07,273.33 196.56,271.52 197.04,270.00 197.53,269.32 198.01,269.77 198.50,270.45 198.99,270.65 199.47,271.41 199.96,273.74 200.44,271.47 200.93,270.92 201.42,272.49 201.90,270.31 202.39,267.45 202.87,270.31 203.36,272.69 203.85,273.39 204.33,273.85 204.82,273.41 205.30,273.06 205.79,273.72 206.28,272.05 206.76,271.03 207.25,270.99 207.73,271.75 208.22,273.19 208.70,273.20 209.19,272.20 209.68,270.42 210.16,268.01 210.65,267.24 211.13,269.01 211.62,271.85 212.11,273.58 212.59,272.31 213.08,271.63 213.56,271.03 214.05,270.48 214.54,270.10 215.02,269.33 215.51,265.85 215.99,269.33 216.48,272.81 216.96,272.67 217.45,271.49 217.94,270.84 218.42,270.16 218.91,270.05 219.39,271.35 219.88,273.18 220.37,270.31 220.85,267.45 221.34,270.31 221.82,272.20 222.31,270.99 222.80,270.20 223.28,269.88 223.77,270.86 224.25,273.25 224.74,272.35 225.23,272.01 225.71,272.47 226.20,272.12 226.68,271.31 227.17,271.18 227.65,271.37 228.14,270.76 228.63,269.38 229.11,268.22 229.60,268.54 230.08,270.55 230.57,273.23 231.06,273.03 231.54,272.22 232.03,272.23 232.51,272.44 233.00,272.91 233.49,273.33 233.97,273.40 234.46,273.37 234.94,273.79 235.43,273.90 235.91,273.37 236.40,273.49 236.89,273.78 237.37,273.85 237.86,273.93 238.34,274.23 238.83,273.58 239.32,272.88 239.80,272.35 240.29,272.23 240.77,272.72 241.26,273.58 241.75,274.21 242.23,273.84 242.72,273.86 243.20,274.00 243.69,273.90 244.18,273.35 244.66,272.66 245.15,272.83 245.63,273.22 246.12,271.72 246.60,272.80 247.09,272.46 247.58,272.82 248.06,272.79 248.55,272.38 249.03,271.58 249.52,269.27 250.01,266.15 250.49,263.95 250.98,263.31 251.46,263.47 251.95,264.14 252.44,266.12 252.92,269.65 253.41,273.31 253.89,271.72 254.38,272.68 254.86,272.09 255.35,271.56 255.84,273.15 256.32,271.51 256.81,270.77 257.29,271.65 257.78,273.27 258.27,271.84 258.75,270.59 259.24,267.04 259.72,262.13 260.21,267.04 260.70,271.95 261.18,272.47 261.67,272.32 262.15,273.23 262.64,271.89 263.13,271.91 263.61,273.31 264.10,271.82 264.58,270.33 265.07,269.22 265.55,269.11 266.04,270.56 266.53,272.73 267.01,272.90 267.50,273.17 267.98,272.52 268.47,271.54 268.96,272.01 269.44,273.25 269.93,271.80 270.41,271.90 270.90,273.44 271.39,271.68 271.87,271.36 272.36,272.60 272.84,272.83 273.33,272.31 273.81,273.23 274.30,272.49 274.79,272.01 275.27,272.59 275.76,273.33 276.24,273.32 276.73,272.49 277.22,271.51 277.70,271.16 278.19,271.51 278.67,272.04 279.16,272.12 279.65,271.48 280.13,270.52 280.62,270.16 281.10,270.92 281.59,272.35 282.08,272.07 282.56,267.37 283.05,262.66 283.53,267.37 284.02,271.04 284.50,271.85 284.99,273.46 285.48,272.53 285.96,273.11 286.45,271.84 286.93,269.69 287.42,268.92 287.91,269.32 288.39,270.84 288.88,272.46 289.36,273.56 289.85,273.97 290.34,273.92 290.82,273.95 291.31,274.10 291.79,274.27 292.28,274.44 292.76,274.31 293.25,274.12 293.74,273.97 294.22,273.81 294.71,273.75 295.19,273.92 295.68,274.04 296.17,273.73 296.65,273.30 297.14,273.47 297.62,274.43 298.11,273.00 298.60,271.89 299.08,271.52 299.57,271.89 300.05,272.57 300.54,273.07 301.02,273.40 301.51,273.77 302.00,274.13 302.48,273.65 302.97,272.28 303.45,270.72 303.94,270.83 304.43,272.53 304.91,272.74 305.40,270.38 305.88,267.52 306.37,267.48 306.86,270.58 307.34,271.29 307.83,269.74 308.31,270.15 308.80,270.49 309.29,270.26 309.77,270.45 310.26,271.15 310.74,271.20 311.23,270.13 311.71,269.31 312.20,270.22 312.69,272.11 313.17,272.71 313.66,271.18 314.14,269.49 314.63,269.59 315.12,270.88 315.60,271.59 316.09,270.99 316.57,269.78 317.06,268.51 317.55,267.84 318.03,266.99 318.52,266.40 319.00,265.59 319.49,264.65 319.97,264.93 320.46,266.87 320.95,268.96 321.43,270.04 321.92,268.68 322.40,264.79 322.89,268.68 323.38,270.66 323.86,271.49 324.35,268.31 324.83,268.45 325.32,271.34 325.81,271.63 326.29,268.68 326.78,264.79 327.26,268.68 327.75,268.96 328.24,270.32 328.72,272.03 329.21,271.95 329.69,271.18 330.18,271.44 330.66,272.22 331.15,272.01 331.64,270.29 332.12,269.47 332.61,269.71 333.09,269.59 333.58,269.14 334.07,269.33 334.55,269.92 335.04,265.73 335.52,260.00 336.01,265.73 336.50,268.14 336.98,267.25 337.47,267.80 337.95,267.79 338.44,267.04 338.92,267.00 339.41,267.10 339.90,265.70 340.38,264.06 340.87,265.52 341.35,270.34 341.84,270.87 342.33,269.59 342.81,270.20 343.30,271.11 343.78,271.92 344.27,272.21 344.76,270.81 345.24,267.26 345.73,264.18 346.21,264.27 346.70,267.34 347.19,270.93 347.67,273.33 348.16,274.34 348.64,273.92 349.13,273.38 349.61,273.05 350.10,273.22 350.59,273.90 351.07,273.98 351.56,273.50 352.04,273.66 352.53,274.22 353.02,274.07 353.50,274.17 353.99,274.06 354.47,273.73 354.96,273.84 355.45,274.13 355.93,274.35 356.42,273.96 356.90,273.34 357.39,272.73 357.87,272.31 358.36,272.18 358.85,272.57 359.33,273.62 359.82,273.93 360.30,273.51 360.79,274.11 361.28,273.74 361.76,273.35 362.25,273.48 362.73,273.68 363.22,273.66 363.71,273.40 364.19,273.22 364.68,273.52 365.16,274.20 365.65,274.01 366.14,273.96 366.62,274.25 367.11,274.13 367.59,273.95 368.08,273.97 368.56,274.21 369.05,274.03 369.54,273.47 370.02,273.15 370.51,272.58 370.99,271.98 371.48,271.46 371.97,271.71 372.45,273.02 372.94,272.17 373.42,269.84 373.91,270.20 374.40,273.07 374.88,271.28 375.37,269.43 375.85,267.30 376.34,262.55 376.82,266.47 377.31,267.83 377.80,270.65 378.28,272.84 378.77,273.22 379.25,272.10 379.74,270.85 380.23,271.00 380.71,273.18 381.20,271.36 381.68,271.03 382.17,268.22 382.66,264.04 383.14,268.22 383.63,271.59 384.11,270.22 384.60,268.19 385.09,266.56 385.57,267.13 386.06,269.72 386.54,272.48 387.03,272.12 387.51,271.29 388.00,270.70 388.49,269.89 388.97,269.25 389.46,269.67 389.94,271.76 390.43,271.38 390.92,270.33 391.40,271.82 391.89,272.83 392.37,271.64 392.86,268.87 393.35,266.82 393.83,267.28 394.32,270.75 394.80,270.12 395.29,266.15 395.77,264.17 396.26,262.28 396.75,258.48 397.23,255.63 397.72,256.26 398.20,259.39 398.69,264.07 399.18,261.75 399.66,259.73 400.15,255.74 400.63,263.11 401.12,261.37 401.61,261.52 402.09,262.93 402.58,263.72 403.06,262.73 403.55,261.54 404.03,262.30 404.52,263.97 405.01,264.18 405.49,263.33 405.98,263.40 406.46,264.15 406.95,263.98 407.44,263.75 407.92,265.23 408.41,263.35 408.89,259.83 409.38,250.42 409.87,259.53 410.35,257.85 410.84,257.64 411.32,259.32 411.81,261.79 412.30,263.01 412.78,262.12 413.27,259.80 413.75,257.92 414.24,257.92 414.72,259.01 415.21,260.31 415.70,262.53 416.18,265.34 416.67,263.58 417.15,263.55 417.64,266.06 418.13,269.73 418.61,272.33 419.10,272.44 419.58,268.35 420.07,264.25 420.56,268.35 421.04,272.00 421.53,272.30 422.01,273.41 422.50,273.17 422.98,272.53 423.47,272.35 423.96,272.55 424.44,273.04 424.93,273.83 425.41,272.60 425.90,271.75 426.39,272.41 426.87,273.76 427.36,273.83 427.84,272.42 428.33,271.18 428.82,271.26 429.30,272.21 429.79,270.26 430.27,262.52 430.76,254.78 431.25,262.52 431.73,270.26 432.22,272.24 432.70,273.15 433.19,273.01 433.67,272.00 434.16,270.86 434.65,270.00 435.13,269.55 435.62,270.00 436.10,271.53 436.59,272.88 437.08,272.87 437.56,271.95 438.05,271.15 438.53,271.02 439.02,271.90 439.51,273.68 439.99,271.99 440.48,270.61 440.96,271.13 441.45,273.57 441.93,270.49 442.42,268.13 442.91,268.16 443.39,268.19 443.88,270.77 444.36,270.96 444.85,270.75 445.34,270.54 445.82,270.23 446.31,269.88 446.79,269.29 447.28,269.12 447.77,270.23 448.25,272.22 448.74,271.08 449.22,269.07 449.71,267.44 450.20,266.05 450.68,264.37 451.17,263.83 451.65,266.84 452.14,272.11 452.62,267.75 453.11,266.04 453.60,265.78 454.08,266.24 454.57,267.36 455.05,267.44 455.54,263.72 456.03,257.83 456.51,255.49 457.00,260.08 457.48,267.76 457.97,270.31 458.46,267.79 458.94,265.15 459.43,264.91 459.91,265.42 460.40,259.78 460.88,265.60 461.37,271.41 461.86,270.33 462.34,269.45 462.83,261.96 463.31,256.46 463.80,255.95 464.29,259.98 464.77,265.08 465.26,268.43 465.74,270.47 466.23,271.80 466.72,271.43 467.20,269.67 467.69,269.36 468.17,271.53 468.66,265.08 469.15,259.48 469.63,257.80 470.12,255.53 470.60,262.98 471.09,267.26 471.57,269.65 472.06,269.34 472.55,267.94 473.03,267.66 473.52,267.16 474.00,265.31 474.49,265.44 474.98,270.54 475.46,267.25 475.95,262.56 476.43,262.25 476.92,265.51 477.41,270.55 477.89,271.19 478.38,272.57 478.86,266.98 479.35,261.48 479.83,260.45 480.32,263.44 480.81,266.30 481.29,264.85 481.78,259.44 482.26,254.68 482.75,253.89 483.24,255.88 483.72,257.33 484.21,257.34 484.69,258.44 485.18,263.65 485.67,271.35 486.15,259.47 486.64,253.25 487.12,256.52 487.61,265.58 488.10,272.16 488.58,270.51 489.07,271.14 489.55,265.79 490.04,262.27 490.52,260.21 491.01,262.93 491.50,265.11 491.98,267.70 492.47,268.60 492.95,266.33 493.44,262.54 493.93,259.91 494.41,260.30 494.90,263.95 495.38,267.84 495.87,268.58 496.36,267.99 496.84,269.22 497.33,257.87 497.81,246.51 498.30,235.16 498.78,223.80 499.27,235.16 499.76,246.51 500.24,257.87 500.73,260.01 501.21,255.46 501.70,256.23 502.19,264.38 502.67,268.01 503.16,258.26 503.64,255.37 504.13,257.17 504.62,258.15 505.10,256.98 505.59,258.68 506.07,266.61 506.56,267.56 507.04,260.87 507.53,261.26 508.02,267.58 508.50,269.00 508.99,259.18 509.47,249.35 509.96,259.18 510.45,260.46 510.93,253.42 511.42,254.94 511.90,262.42 512.39,261.06 512.88,266.38 513.36,266.91 513.85,270.06 514.33,271.66 514.82,271.23 515.31,267.79 515.79,266.20 516.28,265.81 516.76,263.15 517.25,260.44 517.73,263.49 518.22,270.91 518.71,268.25 519.19,267.06 519.68,264.25 520.16,264.68 520.65,266.46 521.14,270.96 521.62,269.35 522.11,268.28 522.59,269.47 523.08,271.71 523.57,269.19 524.05,264.78 524.54,260.84 525.02,260.25 525.51,262.77 525.99,265.19 526.48,265.18 526.97,262.72 527.45,258.40 527.94,252.59 528.42,248.06 528.91,249.80 529.40,258.12 529.88,266.65 530.37,270.19 530.85,269.91 531.34,270.18 531.83,271.67 532.31,269.99 532.80,262.74 533.28,255.04 533.77,254.21 534.26,260.49 534.74,251.48 535.23,247.70 535.71,236.81 536.20,225.93 536.68,236.81 537.17,247.70 537.66,258.58 538.14,268.21 538.63,264.52 539.11,265.29" fill="none" stroke="#d03a50" stroke-width="0.6" stroke-opacity="1.0" stroke-linejoin="round"/>
<polyline points="43.50,273.12 43.99,272.68 44.47,272.41 44.96,272.49 45.44,270.58 45.93,267.87 46.42,270.58 46.90,273.28 47.39,274.53 47.87,274.34 48.36,274.18 48.84,274.37 49.33,274.39 49.82,274.16 50.30,272.93 50.79,271.71 51.27,272.93 51.76,274.16 52.25,274.02 52.73,273.70 53.22,273.55 53.70,273.66 54.19,274.10 54.68,274.49 55.16,274.15 55.65,274.12 56.13,274.22 56.62,274.16 57.11,273.87 57.59,273.64 58.08,273.64 58.56,273.72 59.05,272.61 59.53,271.17 60.02,272.61 60.51,273.20 60.99,273.28 61.48,273.61 61.96,274.16 62.45,274.45 62.94,274.25 63.42,274.24 63.91,274.31 64.39,274.51 64.88,274.15 65.37,274.25 65.85,274.04 66.34,273.04 66.82,272.53 67.31,272.69 67.79,273.33 68.28,274.16 68.77,274.36 69.25,274.30 69.74,274.41 70.22,274.42 70.71,274.46 71.20,274.44 71.68,274.23 72.17,273.99 72.65,273.61 73.14,273.34 73.63,273.61 74.11,274.22 74.60,274.49 75.08,274.17 75.57,273.72 76.06,273.57 76.54,273.86 77.03,274.52 77.51,273.83 78.00,273.50 78.48,273.54 78.97,273.70 79.46,273.90 79.94,274.25 80.43,274.36 80.91,274.23 81.40,274.46 81.89,273.93 82.37,273.77 82.86,274.24 83.34,274.05 83.83,273.61 84.32,272.28 84.80,270.64 85.29,272.28 85.77,273.92 86.26,274.46 86.74,274.44 87.23,271.02 87.72,264.55 88.20,258.08 88.69,264.55 89.17,271.02 89.66,274.06 90.15,273.80 90.63,273.95 91.12,274.21 91.60,274.27 92.09,274.40 92.58,274.07 93.06,273.48 93.55,273.30 94.03,273.52 94.52,273.97 95.00,274.48 95.49,273.99 95.98,273.69 96.46,273.77 96.95,274.36 97.43,273.82 97.92,273.52 98.41,273.87 98.89,274.34 99.38,274.49 99.86,274.41 100.35,274.41 100.84,274.45 101.32,274.42 101.81,273.96 102.29,273.53 102.78,273.43 103.27,273.48 103.75,273.42 104.24,273.34 104.72,273.52 105.21,273.95 105.69,274.35 106.18,274.42 106.67,274.38 107.15,274.42 107.64,274.45 108.12,274.35 108.61,273.89 109.10,272.70 109.58,271.16 110.07,270.25 110.55,270.43 111.04,272.11 111.53,272.49 112.01,268.31 112.50,266.95 112.98,268.51 113.47,270.95 113.95,272.24 114.44,272.38 114.93,272.48 115.41,273.08 115.90,274.01 116.38,273.13 116.87,272.98 117.36,273.60 117.84,273.72 118.33,273.89 118.81,272.50 119.30,269.83 119.79,267.36 120.27,266.12 120.76,266.43 121.24,267.84 121.73,270.22 122.22,272.28 122.70,271.80 123.19,271.61 123.67,273.73 124.16,272.23 124.64,271.49 125.13,271.30 125.62,270.87 126.10,266.65 126.59,261.49 127.07,266.65 127.56,271.80 128.05,271.49 128.53,268.54 129.02,265.69 129.50,265.45 129.99,267.96 130.48,270.81 130.96,271.83 131.45,271.25 131.93,270.75 132.42,271.07 132.90,269.33 133.39,265.85 133.88,269.33 134.36,272.78 134.85,272.46 135.33,271.55 135.82,271.27 136.31,272.16 136.79,273.54 137.28,273.30 137.76,272.47 138.25,272.03 138.74,272.17 139.22,272.87 139.71,273.44 140.19,273.14 140.68,271.92 141.17,270.11 141.65,268.60 142.14,268.88 142.62,271.54 143.11,269.99 143.59,266.92 144.08,269.99 144.57,273.06 145.05,272.75 145.54,271.34 146.02,271.39 146.51,272.26 147.00,272.64 147.48,272.68 147.97,273.23 148.45,273.55 148.94,272.14 149.43,271.20 149.91,271.25 150.40,272.14 150.88,273.19 151.37,273.82 151.85,273.75 152.34,273.19 152.83,272.67 153.31,272.59 153.80,273.03 154.28,273.74 154.77,273.78 155.26,273.80 155.74,273.45 156.23,271.83 156.71,269.42 157.20,267.82 157.69,268.09 158.17,270.05 158.66,272.58 159.14,273.75 159.63,273.73 160.12,271.51 160.60,270.03 161.09,271.65 161.57,272.95 162.06,271.36 162.54,272.29 163.03,273.84 163.52,272.28 164.00,270.64 164.49,272.21 164.97,272.29 165.46,272.01 165.95,271.78 166.43,272.15 166.92,272.33 167.40,271.62 167.89,270.95 168.38,271.21 168.86,271.85 169.35,272.13 169.83,272.21 170.32,272.17 170.80,271.82 171.29,271.58 171.78,271.74 172.26,271.61 172.75,270.70 173.23,270.08 173.72,271.17 174.21,273.55 174.69,272.32 175.18,271.42 175.66,269.58 176.15,269.70 176.64,268.72 177.12,269.04 177.61,271.04 178.09,273.79 178.58,271.70 179.07,270.51 179.55,270.79 180.04,271.97 180.52,273.03 181.01,273.09 181.49,271.95 181.98,270.60 182.47,270.22 182.95,270.97 183.44,272.13 183.92,273.18 184.41,272.81 184.90,269.33 185.38,265.85 185.87,269.33 186.35,272.81 186.84,271.94 187.33,271.32 187.81,270.94 188.30,270.43 188.78,270.84 189.27,272.80 189.75,272.87 190.24,272.54 190.73,273.48 191.21,271.36 191.70,271.01 192.18,269.05 192.67,271.30 193.16,273.36 193.64,271.47 194.13,269.69 194.61,268.26 195.10,267.77 195.59,269.23 196.07,271.97 196.56,273.78 197.04,273.29 197.53,273.71 198.01,273.38 198.50,272.42 198.99,271.60 199.47,271.92 199.96,273.73 200.44,271.69 200.93,270.03 201.42,269.35 201.90,269.34 202.39,270.18 202.87,272.16 203.36,273.32 203.85,272.37 204.33,273.33 204.82,272.64 205.30,271.29 205.79,270.62 206.28,270.50 206.76,271.00 207.25,271.95 207.73,272.49 208.22,271.97 208.70,270.94 209.19,270.61 209.68,269.99 210.16,266.92 210.65,269.99 211.13,270.85 211.62,271.25 212.11,273.47 212.59,271.80 213.08,271.36 213.56,272.44 214.05,268.35 214.54,264.25 215.02,268.35 215.51,269.25 215.99,268.50 216.48,269.60 216.96,271.60 217.45,272.88 217.94,272.99 218.42,273.39 218.91,272.48 219.39,269.33 219.88,265.85 220.37,269.33 220.85,272.81 221.34,273.20 221.82,271.38 222.31,270.51 222.80,271.42 223.28,273.48 223.77,272.22 224.25,270.94 224.74,270.62 225.23,271.63 225.71,273.73 226.20,272.31 226.68,272.49 227.17,273.44 227.65,273.29 228.14,272.21 228.63,271.47 229.11,271.04 229.60,270.79 230.08,271.20 230.57,272.62 231.06,273.74 231.54,272.31 232.03,272.03 232.51,272.48 233.00,273.11 233.49,273.40 233.97,273.65 234.46,274.17 234.94,274.08 235.43,273.89 235.91,273.04 236.40,272.76 236.89,272.84 237.37,272.67 237.86,272.43 238.34,272.70 238.83,273.52 239.32,273.99 239.80,273.26 240.29,273.13 240.77,273.05 241.26,272.29 241.75,271.16 242.23,270.69 242.72,271.14 243.20,271.73 243.69,272.29 244.18,273.40 244.66,273.77 245.15,273.37 245.63,272.89 246.12,270.41 246.60,269.35 247.09,269.18 247.58,266.38 248.06,269.14 248.55,269.77 249.03,271.71 249.52,272.35 250.01,270.86 250.49,271.21 250.98,272.19 251.46,272.12 251.95,271.20 252.44,271.80 252.92,271.64 253.41,268.29 253.89,268.05 254.38,270.55 254.86,273.13 255.35,272.11 255.84,271.13 256.32,270.20 256.81,269.25 257.29,268.62 257.78,268.79 258.27,269.47 258.75,267.04 259.24,262.13 259.72,267.04 260.21,269.21 260.70,271.78 261.18,269.51 261.67,263.79 262.15,261.69 262.64,263.60 263.13,267.20 263.61,266.92 264.10,269.99 264.58,271.18 265.07,270.75 265.55,271.53 266.04,272.96 266.53,270.69 267.01,270.56 267.50,272.08 267.98,273.21 268.47,271.68 268.96,270.24 269.44,269.47 269.93,269.93 270.41,271.80 270.90,272.43 271.39,269.92 271.87,268.92 272.36,269.55 272.84,270.59 273.33,271.19 273.81,271.78 274.30,272.68 274.79,273.46 275.27,272.91 275.76,271.63 276.24,270.01 276.73,269.40 277.22,269.99 277.70,270.24 278.19,269.04 278.67,267.45 279.16,267.69 279.65,270.20 280.13,272.74 280.62,270.31 281.10,267.45 281.59,270.31 282.08,271.09 282.56,271.24 283.05,272.54 283.53,272.64 284.02,271.62 284.50,269.58 284.99,271.62 285.48,273.15 285.96,271.71 286.45,270.58 286.93,270.35 287.42,270.96 287.91,272.12 288.39,273.08 288.88,273.25 289.36,273.52 289.85,273.92 290.34,273.49 290.82,273.75 291.31,274.22 291.79,274.42 292.28,274.41 292.76,274.46 293.25,274.42 293.74,274.35 294.22,274.41 294.71,274.46 295.19,274.33 295.68,274.22 296.17,274.32 296.65,274.47 297.14,274.42 297.62,274.32 298.11,274.37 298.60,273.78 299.08,273.49 299.57,272.61 300.05,271.17 300.54,272.61 301.02,273.04 301.51,272.87 302.00,273.20 302.48,273.41 302.97,272.66 303.45,269.75 303.94,268.00 304.43,268.35 304.91,269.72 305.40,270.60 305.88,270.32 306.37,270.34 306.86,270.79 307.34,270.32 307.83,269.24 308.31,269.36 308.80,270.59 309.29,271.25 309.77,270.72 310.26,269.77 310.74,269.66 311.23,271.33 311.71,270.98 312.20,267.93 312.69,267.35 313.17,269.74 313.66,272.47 314.14,272.74 314.63,271.31 315.12,270.71 315.60,272.50 316.09,267.36 316.57,262.14 317.06,260.09 317.55,262.20 318.03,267.07 318.52,272.23 319.00,270.28 319.49,270.30 319.97,269.66 320.46,266.38 320.95,269.66 321.43,269.11 321.92,266.40 322.40,264.72 322.89,265.37 323.38,267.21 323.86,269.47 324.35,268.68 324.83,264.79 325.32,268.68 325.81,270.26 326.29,268.63 326.78,268.82 327.26,270.66 327.75,272.67 328.24,271.02 328.72,270.11 329.21,269.93 329.69,269.71 330.18,268.50 330.66,266.81 331.15,265.87 331.64,264.94 332.12,258.72 332.61,264.94 333.09,270.08 333.58,265.91 334.07,262.26 334.55,261.43 335.04,263.89 335.52,267.99 336.01,271.66 336.50,271.89 336.98,271.49 337.47,271.86 337.95,272.50 338.44,269.00 338.92,265.32 339.41,269.00 339.90,270.50 340.38,270.41 340.87,271.09 341.35,270.95 341.84,268.89 342.33,266.85 342.81,267.22 343.30,269.66 343.78,272.74 344.27,270.22 344.76,269.96 345.24,272.90 345.73,270.51 346.21,270.88 346.70,272.71 347.19,273.72 347.67,273.72 348.16,273.57 348.64,273.22 349.13,273.22 349.61,273.66 350.10,274.32 350.59,273.91 351.07,273.73 351.56,273.72 352.04,273.55 352.53,273.12 353.02,272.69 353.50,272.63 353.99,272.85 354.47,273.07 354.96,270.64 355.45,267.98 355.93,270.64 356.42,273.30 356.90,273.99 357.39,274.16 357.87,273.53 358.36,273.12 358.85,270.31 359.33,267.45 359.82,270.31 360.30,273.18 360.79,273.40 361.28,273.66 361.76,274.28 362.25,273.91 362.73,273.72 363.22,273.97 363.71,274.11 364.19,273.41 364.68,272.93 365.16,271.71 365.65,272.93 366.14,273.50 366.62,272.94 367.11,272.86 367.59,273.34 368.08,274.13 368.56,273.97 369.05,273.73 369.54,273.77 370.02,273.71 370.51,273.05 370.99,272.33 371.48,272.52 371.97,273.40 372.45,273.29 372.94,272.59 373.42,273.29 373.91,272.32 374.40,270.29 374.88,269.38 375.37,269.42 375.85,269.17 376.34,267.95 376.82,266.73 377.31,266.90 377.80,268.49 378.28,270.27 378.77,271.49 379.25,272.56 379.74,273.15 380.23,272.08 380.71,271.92 381.20,272.66 381.68,272.80 382.17,271.13 382.66,269.75 383.14,269.31 383.63,269.76 384.11,270.10 384.60,269.94 385.09,269.83 385.57,270.07 386.06,270.92 386.54,272.67 387.03,271.48 387.51,269.73 388.00,268.87 388.49,265.53 388.97,269.14 389.46,271.35 389.94,272.48 390.43,270.33 390.92,269.87 391.40,271.60 391.89,271.85 392.37,270.29 392.86,269.78 393.35,269.91 393.83,270.55 394.32,270.54 394.80,269.60 395.29,266.38 395.77,261.06 396.26,266.38 396.75,265.82 397.23,259.99 397.72,254.58 398.20,252.92 398.69,255.66 399.18,260.13 399.66,263.54 400.15,265.13 400.63,260.49 401.12,251.48 401.61,260.49 402.09,262.88 402.58,262.61 403.06,264.55 403.55,262.63 404.03,259.11 404.52,256.99 405.01,257.96 405.49,263.03 405.98,261.32 406.46,259.15 406.95,261.93 407.44,257.74 407.92,247.01 408.41,257.74 408.89,260.84 409.38,262.17 409.87,265.13 410.35,261.28 410.84,258.93 411.32,259.39 411.81,261.37 412.30,264.89 412.78,258.77 413.27,252.89 413.75,248.91 414.24,247.66 414.72,248.94 415.21,251.66 415.70,254.89 416.18,259.29 416.67,265.50 417.15,265.79 417.64,265.35 418.13,268.22 418.61,272.51 419.10,271.39 419.58,271.50 420.07,273.72 420.56,270.81 421.04,269.18 421.53,269.39 422.01,270.72 422.50,272.03 422.98,272.51 423.47,272.48 423.96,273.14 424.44,273.07 424.93,272.13 425.41,272.10 425.90,271.92 426.39,271.22 426.87,271.35 427.36,273.56 427.84,270.58 428.33,268.11 428.82,268.61 429.30,271.80 429.79,272.32 430.27,270.52 430.76,270.77 431.25,272.06 431.73,273.37 432.22,273.23 432.70,272.00 433.19,270.74 433.67,270.14 434.16,270.20 434.65,270.60 435.13,268.35 435.62,264.25 436.10,268.35 436.59,272.44 437.08,273.37 437.56,272.02 438.05,270.38 438.53,269.69 439.02,270.77 439.51,273.25 439.99,272.10 440.48,270.84 440.96,270.81 441.45,271.64 441.93,272.75 442.42,273.47 442.91,273.03 443.39,272.35 443.88,271.43 444.36,270.64 444.85,270.32 445.34,270.22 445.82,268.81 446.31,265.00 446.79,268.81 447.28,271.03 447.77,271.31 448.25,271.85 448.74,269.66 449.22,266.38 449.71,269.66 450.20,272.40 450.68,272.00 451.17,271.08 451.65,270.35 452.14,270.46 452.62,270.58 453.11,269.61 453.60,268.33 454.08,268.62 454.57,270.82 455.05,270.38 455.54,268.17 456.03,265.33 456.51,259.97 457.00,252.34 457.48,248.93 457.97,251.57 458.46,258.21 458.94,263.67 459.43,265.69 459.91,267.50 460.40,270.37 460.88,261.03 461.37,254.72 461.86,257.32 462.34,266.73 462.83,269.20 463.31,260.36 463.80,251.27 464.29,260.36 464.77,265.04 465.26,271.89 465.74,263.45 466.23,260.79 466.72,265.11 467.20,272.10 467.69,268.99 468.17,271.39 468.66,269.71 469.15,269.34 469.63,269.95 470.12,269.33 470.60,269.65 471.09,271.95 471.57,267.04 472.06,262.13 472.55,267.04 473.03,271.95 473.52,270.77 474.00,269.50 474.49,268.80 474.98,269.04 475.46,271.03 475.95,271.74 476.43,271.81 476.92,269.79 477.41,265.26 477.89,263.96 478.38,266.16 478.86,268.19 479.35,267.50 479.83,265.53 480.32,265.69 480.81,269.54 481.29,269.80 481.78,263.55 482.26,259.73 482.75,261.32 483.24,269.57 483.72,264.22 484.21,255.46 484.69,252.69 485.18,254.42 485.67,254.67 486.15,262.45 486.64,270.23 487.12,263.52 487.61,252.54 488.10,246.16 488.58,247.41 489.07,255.17 489.55,264.85 490.04,271.38 490.52,271.54 491.01,271.17 491.50,270.34 491.98,268.93 492.47,269.60 492.95,271.71 493.44,268.47 493.93,269.69 494.41,270.47 494.90,266.58 495.38,265.37 495.87,264.81 496.36,264.95 496.84,266.99 497.33,264.25 497.81,266.76 498.30,264.08 498.78,265.02 499.27,269.61 499.76,271.33 500.24,270.68 500.73,271.35 501.21,271.05 501.70,271.24 502.19,270.83 502.67,267.90 503.16,268.40 503.64,264.75 504.13,258.40 504.62,264.75 505.10,267.10 505.59,261.94 506.07,260.74 506.56,263.80 507.04,268.81 507.53,270.90 508.02,267.92 508.50,267.31 508.99,268.48 509.47,270.69 509.96,271.90 510.45,270.31 510.93,268.26 511.42,269.36 511.90,271.33 512.39,268.36 512.88,268.50 513.36,270.66 513.85,271.43 514.33,270.78 514.82,271.15 515.31,264.59 515.79,257.54 516.28,246.69 516.76,257.54 517.25,262.86 517.73,264.91 518.22,266.23 518.71,263.11 519.19,255.74 519.68,263.11 520.16,270.48 520.65,268.58 521.14,267.49 521.62,268.54 522.11,268.04 522.59,266.79 523.08,268.89 523.57,269.93 524.05,267.25 524.54,270.02 525.02,268.78 525.51,265.80 525.99,265.32 526.48,269.00 526.97,270.54 527.45,269.24 527.94,269.07 528.42,271.63 528.91,261.74 529.40,248.59 529.88,235.43 530.37,222.27 530.85,209.11 531.34,222.27 531.83,235.43 532.31,248.59 532.80,261.74 533.28,259.41 533.77,257.56 534.26,258.90 534.74,261.99 535.23,264.41 535.71,264.83 536.20,263.32 536.68,261.98 537.17,256.80 537.66,263.76 538.14,268.03 538.63,264.35 539.11,263.16" fill="none" stroke="#3c3cc0" stroke-width="0.6" stroke-opacity="1.0" stroke-linejoin="round"/>
</g>
<g stroke="#999999" stroke-width="1" fill="none">
<rect x="43.5" y="20.45" width="496.10" height="106.35"/>
<line x1="43.50" y1="126.8" x2="43.50" y2="122.6" stroke-width="0.8"/>
<line x1="43.50" y1="20.45" x2="43.50" y2="24.65" stroke-width="0.8"/>
<line x1="92.09" y1="126.8" x2="92.09" y2="122.6" stroke-width="0.8"/>
<line x1="92.09" y1="20.45" x2="92.09" y2="24.65" stroke-width="0.8"/>
<line x1="140.68" y1="126.8" x2="140.68" y2="122.6" stroke-width="0.8"/>
<line x1="140.68" y1="20.45" x2="140.68" y2="24.65" stroke-width="0.8"/>
<line x1="189.27" y1="126.8" x2="189.27" y2="122.6" stroke-width="0.8"/>
<line x1="189.27" y1="20.45" x2="189.27" y2="24.65" stroke-width="0.8"/>
<line x1="237.86" y1="126.8" x2="237.86" y2="122.6" stroke-width="0.8"/>
<line x1="237.86" y1="20.45" x2="237.86" y2="24.65" stroke-width="0.8"/>
<line x1="286.45" y1="126.8" x2="286.45" y2="122.6" stroke-width="0.8"/>
<line x1="286.45" y1="20.45" x2="286.45" y2="24.65" stroke-width="0.8"/>
<line x1="335.04" y1="126.8" x2="335.04" y2="122.6" stroke-width="0.8"/>
<line x1="335.04" y1="20.45" x2="335.04" y2="24.65" stroke-width="0.8"/>
<line x1="383.63" y1="126.8" x2="383.63" y2="122.6" stroke-width="0.8"/>
<line x1="383.63" y1="20.45" x2="383.63" y2="24.65" stroke-width="0.8"/>
<line x1="432.22" y1="126.8" x2="432.22" y2="122.6" stroke-width="0.8"/>
<line x1="432.22" y1="20.45" x2="432.22" y2="24.65" stroke-width="0.8"/>
<line x1="480.81" y1="126.8" x2="480.81" y2="122.6" stroke-width="0.8"/>
<line x1="480.81" y1="20.45" x2="480.81" y2="24.65" stroke-width="0.8"/>
<line x1="529.40" y1="126.8" x2="529.40" y2="122.6" stroke-width="0.8"/>
<line x1="529.40" y1="20.45" x2="529.40" y2="24.65" stroke-width="0.8"/>
<line x1="43.5" y1="126.80" x2="47.5" y2="126.80" stroke-width="0.8"/>
<line x1="539.6" y1="126.80" x2="535.6" y2="126.80" stroke-width="0.8"/>
<line x1="43.5" y1="100.21" x2="47.5" y2="100.21" stroke-width="0.8"/>
<line x1="539.6" y1="100.21" x2="535.6" y2="100.21" stroke-width="0.8"/>
<line x1="43.5" y1="73.62" x2="47.5" y2="73.62" stroke-width="0.8"/>
<line x1="539.6" y1="73.62" x2="535.6" y2="73.62" stroke-width="0.8"/>
<line x1="43.5" y1="47.04" x2="47.5" y2="47.04" stroke-width="0.8"/>
<line x1="539.6" y1="47.04" x2="535.6" y2="47.04" stroke-width="0.8"/>
<line x1="43.5" y1="20.45" x2="47.5" y2="20.45" stroke-width="0.8"/>
<line x1="539.6" y1="20.45" x2="535.6" y2="20.45" stroke-width="0.8"/>
</g>
<g stroke="#999999" stroke-width="1" fill="none">
<rect x="43.5" y="168.45" width="496.10" height="106.45"/>
<line x1="43.50" y1="274.9" x2="43.50" y2="270.7" stroke-width="0.8"/>
<line x1="43.50" y1="168.45" x2="43.50" y2="172.64999999999998" stroke-width="0.8"/>
<line x1="92.09" y1="274.9" x2="92.09" y2="270.7" stroke-width="0.8"/>
<line x1="92.09" y1="168.45" x2="92.09" y2="172.64999999999998" stroke-width="0.8"/>
<line x1="140.68" y1="274.9" x2="140.68" y2="270.7" stroke-width="0.8"/>
<line x1="140.68" y1="168.45" x2="140.68" y2="172.64999999999998" stroke-width="0.8"/>
<line x1="189.27" y1="274.9" x2="189.27" y2="270.7" stroke-width="0.8"/>
<line x1="189.27" y1="168.45" x2="189.27" y2="172.64999999999998" stroke-width="0.8"/>
<line x1="237.86" y1="274.9" x2="237.86" y2="270.7" stroke-width="0.8"/>
<line x1="237.86" y1="168.45" x2="237.86" y2="172.64999999999998" stroke-width="0.8"/>
<line x1="286.45" y1="274.9" x2="286.45" y2="270.7" stroke-width="0.8"/>
<line x1="286.45" y1="168.45" x2="286.45" y2="172.64999999999998" stroke-width="0.8"/>
<line x1="335.04" y1="274.9" x2="335.04" y2="270.7" stroke-width="0.8"/>
<line x1="335.04" y1="168.45" x2="335.04" y2="172.64999999999998" stroke-width="0.8"/>
<line x1="383.63" y1="274.9" x2="383.63" y2="270.7" stroke-width="0.8"/>
<line x1="383.63" y1="168.45" x2="383.63" y2="172.64999999999998" stroke-width="0.8"/>
<line x1="432.22" y1="274.9" x2="432.22" y2="270.7" stroke-width="0.8"/>
<line x1="432.22" y1="168.45" x2="432.22" y2="172.64999999999998" stroke-width="0.8"/>
<line x1="480.81" y1="274.9" x2="480.81" y2="270.7" stroke-width="0.8"/>
<line x1="480.81" y1="168.45" x2="480.81" y2="172.64999999999998" stroke-width="0.8"/>
<line x1="529.40" y1="274.9" x2="529.40" y2="270.7" stroke-width="0.8"/>
<line x1="529.40" y1="168.45" x2="529.40" y2="172.64999999999998" stroke-width="0.8"/>
<line x1="43.5" y1="274.90" x2="47.5" y2="274.90" stroke-width="0.8"/>
<line x1="539.6" y1="274.90" x2="535.6" y2="274.90" stroke-width="0.8"/>
<line x1="43.5" y1="253.61" x2="47.5" y2="253.61" stroke-width="0.8"/>
<line x1="539.6" y1="253.61" x2="535.6" y2="253.61" stroke-width="0.8"/>
<line x1="43.5" y1="232.32" x2="47.5" y2="232.32" stroke-width="0.8"/>
<line x1="539.6" y1="232.32" x2="535.6" y2="232.32" stroke-width="0.8"/>
<line x1="43.5" y1="211.03" x2="47.5" y2="211.03" stroke-width="0.8"/>
<line x1="539.6" y1="211.03" x2="535.6" y2="211.03" stroke-width="0.8"/>
<line x1="43.5" y1="189.74" x2="47.5" y2="189.74" stroke-width="0.8"/>
<line x1="539.6" y1="189.74" x2="535.6" y2="189.74" stroke-width="0.8"/>
<line x1="43.5" y1="168.45" x2="47.5" y2="168.45" stroke-width="0.8"/>
<line x1="539.6" y1="168.45" x2="535.6" y2="168.45" stroke-width="0.8"/>
</g>
<g font-family="'Liberation Sans', Arial, sans-serif" font-weight="bold" font-size="8.2" fill="#000" stroke="#000" stroke-width="0.15">
<text transform="translate(43.50 138.50) scale(1 1.05)" text-anchor="middle" font-size="8.65">0</text>
<text transform="translate(92.09 138.50) scale(1 1.05)" text-anchor="middle" font-size="8.65">100</text>
<text transform="translate(140.68 138.50) scale(1 1.05)" text-anchor="middle" font-size="8.65">200</text>
<text transform="translate(189.27 138.50) scale(1 1.05)" text-anchor="middle" font-size="8.65">300</text>
<text transform="translate(237.86 138.50) scale(1 1.05)" text-anchor="middle" font-size="8.65">400</text>
<text transform="translate(286.45 138.50) scale(1 1.05)" text-anchor="middle" font-size="8.65">500</text>
<text transform="translate(335.04 138.50) scale(1 1.05)" text-anchor="middle" font-size="8.65">600</text>
<text transform="translate(383.63 138.50) scale(1 1.05)" text-anchor="middle" font-size="8.65">700</text>
<text transform="translate(432.22 138.50) scale(1 1.05)" text-anchor="middle" font-size="8.65">800</text>
<text transform="translate(480.81 138.50) scale(1 1.05)" text-anchor="middle" font-size="8.65">900</text>
<text transform="translate(529.40 138.50) scale(1 1.05)" text-anchor="middle" font-size="8.65">1000</text>
<text transform="translate(40.10 130.40) scale(1 1.07)" text-anchor="end" font-size="8.9">0</text>
<text transform="translate(40.10 103.81) scale(1 1.07)" text-anchor="end" font-size="8.9">1</text>
<text transform="translate(40.10 77.22) scale(1 1.07)" text-anchor="end" font-size="8.9">2</text>
<text transform="translate(40.10 50.64) scale(1 1.07)" text-anchor="end" font-size="8.9">3</text>
<text transform="translate(40.10 24.05) scale(1 1.07)" text-anchor="end" font-size="8.9">4</text>
<text transform="translate(43.50 286.60) scale(1 1.05)" text-anchor="middle" font-size="8.65">0</text>
<text transform="translate(92.09 286.60) scale(1 1.05)" text-anchor="middle" font-size="8.65">100</text>
<text transform="translate(140.68 286.60) scale(1 1.05)" text-anchor="middle" font-size="8.65">200</text>
<text transform="translate(189.27 286.60) scale(1 1.05)" text-anchor="middle" font-size="8.65">300</text>
<text transform="translate(237.86 286.60) scale(1 1.05)" text-anchor="middle" font-size="8.65">400</text>
<text transform="translate(286.45 286.60) scale(1 1.05)" text-anchor="middle" font-size="8.65">500</text>
<text transform="translate(335.04 286.60) scale(1 1.05)" text-anchor="middle" font-size="8.65">600</text>
<text transform="translate(383.63 286.60) scale(1 1.05)" text-anchor="middle" font-size="8.65">700</text>
<text transform="translate(432.22 286.60) scale(1 1.05)" text-anchor="middle" font-size="8.65">800</text>
<text transform="translate(480.81 286.60) scale(1 1.05)" text-anchor="middle" font-size="8.65">900</text>
<text transform="translate(529.40 286.60) scale(1 1.05)" text-anchor="middle" font-size="8.65">1000</text>
<text transform="translate(40.10 278.50) scale(1 1.07)" text-anchor="end" font-size="8.9">0</text>
<text transform="translate(40.10 257.21) scale(1 1.07)" text-anchor="end" font-size="8.9">0.002</text>
<text transform="translate(40.10 235.92) scale(1 1.07)" text-anchor="end" font-size="8.9">0.004</text>
<text transform="translate(40.10 214.63) scale(1 1.07)" text-anchor="end" font-size="8.9">0.006</text>
<text transform="translate(40.10 193.34) scale(1 1.07)" text-anchor="end" font-size="8.9">0.008</text>
<text transform="translate(40.10 172.05) scale(1 1.07)" text-anchor="end" font-size="8.9">0.01</text>
</g>
<g font-family="'Liberation Sans', Arial, sans-serif" font-weight="bold" fill="#000">
<rect x="47.5" y="24.5" width="45.8" height="19.1" fill="#fff" stroke="#999999" stroke-width="0.8"/>
<line x1="49.0" y1="28.50" x2="65.3" y2="28.50" stroke="#303030" stroke-width="0.6" stroke-opacity="0.8"/>
<text x="67.3" y="30.30" font-size="4.25" letter-spacing="0.24" font-weight="bold" fill="#000" stroke="#000" stroke-width="0.12">CSM</text>
<line x1="49.0" y1="34.25" x2="65.3" y2="34.25" stroke="#d03a50" stroke-width="0.6" stroke-opacity="0.8"/>
<text x="67.3" y="36.05" font-size="4.25" letter-spacing="0.24" font-weight="bold" fill="#000" stroke="#000" stroke-width="0.12">HTMR-CSM</text>
<line x1="49.0" y1="40.00" x2="65.3" y2="40.00" stroke="#3c3cc0" stroke-width="0.6" stroke-opacity="0.8"/>
<text x="67.3" y="41.80" font-size="4.25" letter-spacing="0.24" font-weight="bold" fill="#000" stroke="#000" stroke-width="0.12">STMR-CSM</text>
<rect x="47.5" y="172.2" width="45.8" height="19.1" fill="#fff" stroke="#999999" stroke-width="0.8"/>
<line x1="49.0" y1="176.20" x2="65.3" y2="176.20" stroke="#303030" stroke-width="0.6" stroke-opacity="0.8"/>
<text x="67.3" y="178.00" font-size="4.25" letter-spacing="0.24" font-weight="bold" fill="#000" stroke="#000" stroke-width="0.12">CSM</text>
<line x1="49.0" y1="181.95" x2="65.3" y2="181.95" stroke="#d03a50" stroke-width="0.6" stroke-opacity="0.8"/>
<text x="67.3" y="183.75" font-size="4.25" letter-spacing="0.24" font-weight="bold" fill="#000" stroke="#000" stroke-width="0.12">HTMR-CSM</text>
<line x1="49.0" y1="187.70" x2="65.3" y2="187.70" stroke="#3c3cc0" stroke-width="0.6" stroke-opacity="0.8"/>
<text x="67.3" y="189.50" font-size="4.25" letter-spacing="0.24" font-weight="bold" fill="#000" stroke="#000" stroke-width="0.12">STMR-CSM</text>
</g>
<g font-family="'Liberation Sans', Arial, sans-serif" font-weight="bold" font-size="9.8" fill="#000" stroke="#000" stroke-width="0.2">
<text x="291.2" y="151.2" text-anchor="middle">X/scan</text>
<text x="291.2" y="299.7" text-anchor="middle">X/scan</text>
<text transform="translate(31.1 73.9) rotate(-90)" text-anchor="middle">Y/m</text>
<text transform="translate(14.0 222.3) rotate(-90)" text-anchor="middle">Y/°</text>
</g>
<text x="211.5" y="16.4" font-family="'Noto Sans CJK SC', sans-serif" font-weight="700" font-size="7.8" fill="#000">（</text>
<text x="220.5" y="17.2" font-family="'Liberation Serif', serif" font-weight="bold" font-size="11.2" fill="#000">a</text>
<text x="228.3" y="16.4" font-family="'Noto Sans CJK SC', sans-serif" font-weight="700" font-size="7.8" fill="#000">）</text>
<text x="236.6" y="16.7" font-family="'Liberation Sans', Arial, sans-serif" font-weight="bold" font-size="9.9" fill="#000" stroke="#000" stroke-width="0.25">Variance With Real Pose In Y</text>
<text x="211.5" y="164.39999999999998" font-family="'Noto Sans CJK SC', sans-serif" font-weight="700" font-size="7.8" fill="#000">（</text>
<text x="220.5" y="165.2" font-family="'Liberation Serif', serif" font-weight="bold" font-size="11.2" fill="#000">b</text>
<text x="228.3" y="164.39999999999998" font-family="'Noto Sans CJK SC', sans-serif" font-weight="700" font-size="7.8" fill="#000">）</text>
<text x="236.6" y="164.7" font-family="'Liberation Sans', Arial, sans-serif" font-weight="bold" font-size="9.9" fill="#000" stroke="#000" stroke-width="0.25">Variance With Real Pose In <tspan font-family="'Liberation Serif', serif" font-style="italic" font-weight="normal">θ</tspan></text>
</g>
</svg>
</body></html>
